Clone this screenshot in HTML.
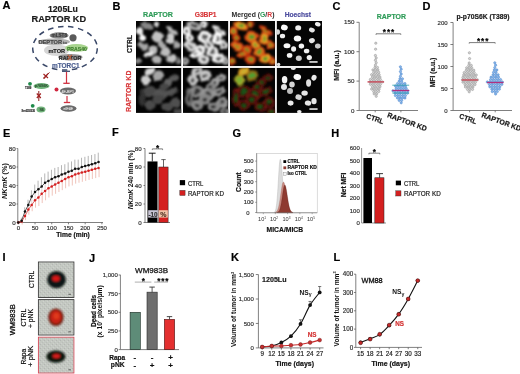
<!DOCTYPE html>
<html><head><meta charset="utf-8"><title>Figure</title>
<style>html,body{margin:0;padding:0;background:#fff;} svg{display:block;} text{font-family:'Liberation Sans', Arial, sans-serif;}</style>
</head><body>
<svg width="520" height="374" viewBox="0 0 520 374">
<rect width="520" height="374" fill="#fff"/>
<defs>
<filter id="soft" x="-20%" y="-20%" width="140%" height="140%"><feGaussianBlur stdDeviation="0.45"/></filter>
<filter id="cb" x="-10%" y="-10%" width="120%" height="120%"><feTurbulence type="fractalNoise" baseFrequency="0.16" numOctaves="2" seed="4" result="n"/><feDisplacementMap in="SourceGraphic" in2="n" scale="3.8" xChannelSelector="R" yChannelSelector="G" result="d"/><feGaussianBlur in="d" stdDeviation="0.95"/></filter>
<filter id="hb" x="-10%" y="-10%" width="120%" height="120%"><feGaussianBlur stdDeviation="0.45"/></filter>
<filter id="ib" x="-30%" y="-30%" width="160%" height="160%"><feGaussianBlur stdDeviation="0.8"/></filter>
<pattern id="speck" width="4" height="4" patternUnits="userSpaceOnUse"><rect width="4" height="4" fill="#c4c9c2"/><rect x="0" y="0" width="1" height="1" fill="#a8a8a8"/><rect x="2" y="2" width="1" height="1" fill="#b4b4b4"/><rect x="3" y="1" width="1" height="1" fill="#dadada"/><rect x="1" y="3" width="1" height="1" fill="#d8d8d8"/></pattern>
</defs>
<text x="2.5" y="9.3" font-size="11" font-weight="bold" fill="#000" text-anchor="start" stroke="#000" stroke-width="0.18" >A</text>
<text x="47.9" y="11.8" font-size="9" font-weight="bold" fill="#1a1a1a" text-anchor="start" stroke="#1a1a1a" stroke-width="0.18" textLength="30" lengthAdjust="spacingAndGlyphs" >1205Lu</text>
<text x="31.5" y="22.2" font-size="9.2" font-weight="bold" fill="#1a1a1a" text-anchor="start" stroke="#1a1a1a" stroke-width="0.18" textLength="54.7" lengthAdjust="spacingAndGlyphs" >RAPTOR KD</text>
<g filter="url(#soft)">
<ellipse cx="56.5" cy="50.2" rx="12.5" ry="5.8" fill="#d6d6d6" />
<ellipse cx="59.1" cy="35.5" rx="9.5" ry="3.2" fill="#858585" />
<ellipse cx="54" cy="41.8" rx="16" ry="3.2" fill="#b2b2b2" />
<circle cx="73" cy="37.8" r="3.6" fill="#5a5a5a" stroke="none" stroke-width="0.4"/>
<ellipse cx="76.6" cy="47.9" rx="11.6" ry="3.9" fill="#a8d48e" />
<ellipse cx="70.3" cy="57.2" rx="12.2" ry="3.3" fill="#959595" />
<ellipse cx="41.5" cy="86" rx="8" ry="3" fill="#6fb27a" />
<ellipse cx="68" cy="91" rx="8" ry="3.4" fill="#6a6a6a" />
<ellipse cx="68.5" cy="108.5" rx="8" ry="3.2" fill="#6a6a6a" />
<ellipse cx="41" cy="109.5" rx="4.5" ry="3" fill="#6fb27a" />
</g>
<ellipse cx="65" cy="48.3" rx="32.3" ry="21.8" fill="none" stroke="#3a4868" stroke-width="1.5" stroke-dasharray="5.5 4.6"/>
<text x="51.5" y="37.3" font-size="5" font-weight="bold" fill="#3a3a3a" text-anchor="start" stroke="#3a3a3a" stroke-width="0.18" textLength="15.5" lengthAdjust="spacingAndGlyphs" >mLST8</text>
<text x="38.5" y="44.0" font-size="5.8" font-weight="bold" fill="#444" text-anchor="start" stroke="#444" stroke-width="0.18" textLength="23.5" lengthAdjust="spacingAndGlyphs" >DEPTOR</text>
<text x="63" y="44.0" font-size="4.2" font-weight="bold" fill="#555" text-anchor="start" stroke="#555" stroke-width="0.18" >to</text>
<text x="48.4" y="52.6" font-size="6" font-weight="bold" fill="#1a1a1a" text-anchor="start" stroke="#1a1a1a" stroke-width="0.18" textLength="16.7" lengthAdjust="spacingAndGlyphs" >mTOR</text>
<text x="66.9" y="51.0" font-size="6" font-weight="bold" fill="#3f7f2f" text-anchor="start" stroke="#3f7f2f" stroke-width="0.18" textLength="20" lengthAdjust="spacingAndGlyphs" >PRAS40</text>
<text x="58.8" y="59.5" font-size="6" font-weight="bold" fill="#2a2a2a" text-anchor="start" stroke="#2a2a2a" stroke-width="0.18" textLength="22.5" lengthAdjust="spacingAndGlyphs" >RAPTOR</text>
<line x1="67.8" y1="54.8" x2="71.8" y2="59.8" stroke="#b85a3a" stroke-width="1.1" />
<line x1="71.8" y1="54.8" x2="67.8" y2="59.8" stroke="#b85a3a" stroke-width="1.1" />
<text x="52" y="68" font-size="6.4" font-weight="bold" fill="#4a5d8f" text-anchor="start" stroke="#4a5d8f" stroke-width="0.18" textLength="27.5" lengthAdjust="spacingAndGlyphs" >mTORC1</text>
<line x1="62" y1="71.3" x2="70" y2="71.3" stroke="#3d4d70" stroke-width="1.3" />
<line x1="66.5" y1="71.8" x2="66.5" y2="83.3" stroke="#d03040" stroke-width="1.2" />
<line x1="63.3" y1="83.3" x2="69.7" y2="83.3" stroke="#d03040" stroke-width="1.3" />
<line x1="67" y1="96" x2="67" y2="102.5" stroke="#d03040" stroke-width="1.2" />
<line x1="63.8" y1="102.5" x2="70.2" y2="102.5" stroke="#d03040" stroke-width="1.3" />
<circle cx="56.5" cy="89.5" r="2" fill="#d02840" stroke="none" stroke-width="0.4"/>
<line x1="49.5" y1="72.5" x2="43" y2="78.5" stroke="#8a1f1f" stroke-width="1.0" />
<line x1="43.5" y1="74" x2="48" y2="78" stroke="#a02020" stroke-width="1.2" />
<line x1="48" y1="73.6" x2="44" y2="78.5" stroke="#a02020" stroke-width="1.2" />
<line x1="38.8" y1="91" x2="38.8" y2="101" stroke="#8a1f1f" stroke-width="1.0" />
<line x1="36.8" y1="93.5" x2="40.8" y2="98" stroke="#a02020" stroke-width="1.2" />
<line x1="40.8" y1="93.5" x2="36.8" y2="98" stroke="#a02020" stroke-width="1.2" />
<circle cx="30" cy="83.8" r="1.9" fill="#1f8a4a" stroke="none" stroke-width="0.4"/>
<circle cx="32.7" cy="105.8" r="1.9" fill="#1f8a4a" stroke="none" stroke-width="0.4"/>
<text x="35" y="87.3" font-size="3.6" font-weight="normal" fill="#254a2a" text-anchor="start" stroke="#254a2a" stroke-width="0.18" >p70S6K</text>
<text x="25" y="89.3" font-size="2.8" font-weight="bold" fill="#333" text-anchor="start" stroke="#333" stroke-width="0.18" >T389</text>
<text x="61.5" y="92.6" font-size="3.6" font-weight="normal" fill="#ddd" text-anchor="start" stroke="#ddd" stroke-width="0.18" >4E-BP1</text>
<text x="63.5" y="110" font-size="3.6" font-weight="normal" fill="#ddd" text-anchor="start" stroke="#ddd" stroke-width="0.18" >eIF4E</text>
<text x="39.5" y="111" font-size="3.5" font-weight="normal" fill="#254a2a" text-anchor="start" stroke="#254a2a" stroke-width="0.18" >S6</text>
<text x="21.5" y="111.5" font-size="2.6" font-weight="bold" fill="#333" text-anchor="start" stroke="#333" stroke-width="0.18" >Ser235/236</text>
<text x="112.5" y="9.5" font-size="11" font-weight="bold" fill="#000" text-anchor="start" stroke="#000" stroke-width="0.18" >B</text>
<text x="143" y="17" font-size="7.1" font-weight="bold" fill="#2e9b58" text-anchor="start" stroke="#2e9b58" stroke-width="0.18" textLength="30" lengthAdjust="spacingAndGlyphs" >RAPTOR</text>
<text x="194.7" y="17.2" font-size="7.1" font-weight="bold" fill="#d8383a" text-anchor="start" stroke="#d8383a" stroke-width="0.18" textLength="21.9" lengthAdjust="spacingAndGlyphs" >G3BP1</text>
<text x="231.5" y="17.2" font-size="7.1" font-weight="bold" fill="#2a2a2a" textLength="43" lengthAdjust="spacingAndGlyphs">Merged (<tspan fill="#2e9b58">G</tspan>/<tspan fill="#d8383a">R</tspan>)</text>
<text x="284.7" y="17.2" font-size="7.1" font-weight="bold" fill="#4b4b9e" text-anchor="start" stroke="#4b4b9e" stroke-width="0.18" textLength="26.3" lengthAdjust="spacingAndGlyphs" >Hoechst</text>
<text transform="translate(131.6,44) rotate(-90)" font-size="7" font-weight="bold" fill="#1a1a1a" text-anchor="middle" stroke="#1a1a1a" stroke-width="0.18" textLength="18" lengthAdjust="spacingAndGlyphs" >CTRL</text>
<text transform="translate(131.4,91.3) rotate(-90)" font-size="7" font-weight="bold" fill="#d8383a" text-anchor="middle" stroke="#d8383a" stroke-width="0.18" textLength="41.6" lengthAdjust="spacingAndGlyphs" >RAPTOR KD</text>
<clipPath id="clip00"><rect x="136" y="21" width="45.4" height="45.2"/></clipPath>
<g clip-path="url(#clip00)">
<rect x="136" y="21" width="45.4" height="45.2" fill="#050505" stroke="none" stroke-width="0.5" />
<g transform="translate(136,21)" filter="url(#cb)">
<ellipse cx="3.5" cy="10.5" rx="3.5154000000000005" ry="4.519800000000001" fill="rgb(231,231,231)" />
<ellipse cx="4.55462" cy="9.59604" rx="1.5819300000000003" ry="2.0339100000000006" fill="rgb(235,235,235)" />
<ellipse cx="6.5" cy="16.5" rx="3.5154000000000005" ry="3.5154000000000005" fill="rgb(247,247,247)" />
<ellipse cx="7.55462" cy="15.79692" rx="1.5819300000000003" ry="1.5819300000000003" fill="rgb(252,252,252)" />
<ellipse cx="11" cy="5" rx="7.030800000000001" ry="3.0132000000000003" fill="rgb(132,132,132)" transform="rotate(20 11 5)" />
<ellipse cx="13.10924" cy="4.39736" rx="3.1638600000000006" ry="1.3559400000000001" fill="rgb(134,134,134)" transform="rotate(20 13.10924 4.39736)" />
<ellipse cx="21" cy="3" rx="3.0132000000000003" ry="2.511" fill="rgb(209,209,209)" />
<ellipse cx="21.90396" cy="2.4978" rx="1.3559400000000001" ry="1.12995" fill="rgb(212,212,212)" />
<ellipse cx="21.5" cy="16" rx="6.026400000000001" ry="5.5242" fill="rgb(192,192,192)" />
<ellipse cx="23.30792" cy="14.89516" rx="2.7118800000000003" ry="2.4858900000000004" fill="rgb(196,196,196)" />
<ellipse cx="36" cy="9.5" rx="7.030800000000001" ry="2.511" fill="rgb(181,181,181)" transform="rotate(35 36 9.5)" />
<ellipse cx="38.10924" cy="8.9978" rx="3.1638600000000006" ry="1.12995" fill="rgb(184,184,184)" transform="rotate(35 38.10924 8.9978)" />
<ellipse cx="34.5" cy="17.5" rx="4.017600000000001" ry="5.5242" fill="rgb(203,203,203)" />
<ellipse cx="35.70528" cy="16.39516" rx="1.8079200000000004" ry="2.4858900000000004" fill="rgb(207,207,207)" />
<ellipse cx="41" cy="24" rx="3.5154000000000005" ry="3.5154000000000005" fill="rgb(165,165,165)" />
<ellipse cx="42.05462" cy="23.29692" rx="1.5819300000000003" ry="1.5819300000000003" fill="rgb(168,168,168)" />
<ellipse cx="7" cy="25.5" rx="6.026400000000001" ry="4.017600000000001" fill="rgb(165,165,165)" transform="rotate(20 7 25.5)" />
<ellipse cx="8.80792" cy="24.69648" rx="2.7118800000000003" ry="1.8079200000000004" fill="rgb(168,168,168)" transform="rotate(20 8.80792 24.69648)" />
<ellipse cx="17.5" cy="29" rx="4.017600000000001" ry="4.519800000000001" fill="rgb(187,187,187)" />
<ellipse cx="18.705280000000002" cy="28.09604" rx="1.8079200000000004" ry="2.0339100000000006" fill="rgb(190,190,190)" />
<ellipse cx="26" cy="24" rx="4.017600000000001" ry="4.519800000000001" fill="rgb(170,170,170)" transform="rotate(-30 26 24)" />
<ellipse cx="27.205280000000002" cy="23.09604" rx="1.8079200000000004" ry="2.0339100000000006" fill="rgb(173,173,173)" transform="rotate(-30 27.205280000000002 23.09604)" />
<ellipse cx="12.5" cy="33.5" rx="5.022" ry="2.511" fill="rgb(225,225,225)" transform="rotate(-15 12.5 33.5)" />
<ellipse cx="14.0066" cy="32.9978" rx="2.2599" ry="1.12995" fill="rgb(229,229,229)" transform="rotate(-15 14.0066 32.9978)" />
<ellipse cx="29.5" cy="30.5" rx="5.022" ry="4.017600000000001" fill="rgb(187,187,187)" />
<ellipse cx="31.0066" cy="29.69648" rx="2.2599" ry="1.8079200000000004" fill="rgb(190,190,190)" />
<ellipse cx="20.5" cy="38.5" rx="5.022" ry="4.017600000000001" fill="rgb(176,176,176)" />
<ellipse cx="22.0066" cy="37.69648" rx="2.2599" ry="1.8079200000000004" fill="rgb(179,179,179)" />
<ellipse cx="35.5" cy="37.5" rx="5.022" ry="4.017600000000001" fill="rgb(192,192,192)" />
<ellipse cx="37.0066" cy="36.69648" rx="2.2599" ry="1.8079200000000004" fill="rgb(196,196,196)" />
<ellipse cx="2" cy="40" rx="3.0132000000000003" ry="3.0132000000000003" fill="rgb(132,132,132)" />
<ellipse cx="2.90396" cy="39.39736" rx="1.3559400000000001" ry="1.3559400000000001" fill="rgb(134,134,134)" />
<ellipse cx="43" cy="40" rx="2.511" ry="3.0132000000000003" fill="rgb(132,132,132)" />
<ellipse cx="43.7533" cy="39.39736" rx="1.12995" ry="1.3559400000000001" fill="rgb(134,134,134)" />
</g>
</g>
<clipPath id="clip10"><rect x="183" y="21" width="45.4" height="45.2"/></clipPath>
<g clip-path="url(#clip10)">
<rect x="183" y="21" width="45.4" height="45.2" fill="#050505" stroke="none" stroke-width="0.5" />
<g transform="translate(183,21)" filter="url(#cb)">
<ellipse cx="3.5" cy="10.5" rx="4.28" ry="5.36" fill="rgb(250,250,250)" />
<ellipse cx="3.5" cy="10.5" rx="1.701" ry="2.1870000000000003" fill="rgb(100,100,100)" />
<ellipse cx="6.5" cy="16.5" rx="4.28" ry="4.28" fill="rgb(250,250,250)" />
<ellipse cx="6.5" cy="16.5" rx="1.701" ry="1.701" fill="rgb(100,100,100)" />
<ellipse cx="11" cy="5" rx="8.06" ry="3.74" fill="rgb(177,177,177)" transform="rotate(20 11 5)" />
<ellipse cx="11" cy="5" rx="3.402" ry="1.4580000000000002" fill="rgb(71,71,71)" transform="rotate(20 11 5)" />
<ellipse cx="21" cy="3" rx="3.74" ry="3.2" fill="rgb(250,250,250)" />
<ellipse cx="21" cy="3" rx="1.4580000000000002" ry="1.215" fill="rgb(100,100,100)" />
<ellipse cx="21.5" cy="16" rx="6.98" ry="6.44" fill="rgb(242,242,242)" />
<ellipse cx="21.5" cy="16" rx="2.9160000000000004" ry="2.673" fill="rgb(97,97,97)" />
<ellipse cx="36" cy="9.5" rx="8.06" ry="3.2" fill="rgb(230,230,230)" transform="rotate(35 36 9.5)" />
<ellipse cx="36" cy="9.5" rx="3.402" ry="1.215" fill="rgb(92,92,92)" transform="rotate(35 36 9.5)" />
<ellipse cx="34.5" cy="17.5" rx="4.82" ry="6.44" fill="rgb(250,250,250)" />
<ellipse cx="34.5" cy="17.5" rx="1.9440000000000002" ry="2.673" fill="rgb(100,100,100)" />
<ellipse cx="41" cy="24" rx="4.28" ry="4.28" fill="rgb(213,213,213)" />
<ellipse cx="41" cy="24" rx="1.701" ry="1.701" fill="rgb(85,85,85)" />
<ellipse cx="7" cy="25.5" rx="6.98" ry="4.82" fill="rgb(213,213,213)" transform="rotate(20 7 25.5)" />
<ellipse cx="7" cy="25.5" rx="2.9160000000000004" ry="1.9440000000000002" fill="rgb(85,85,85)" transform="rotate(20 7 25.5)" />
<ellipse cx="17.5" cy="29" rx="4.82" ry="5.36" fill="rgb(236,236,236)" />
<ellipse cx="17.5" cy="29" rx="1.9440000000000002" ry="2.1870000000000003" fill="rgb(94,94,94)" />
<ellipse cx="26" cy="24" rx="4.82" ry="5.36" fill="rgb(218,218,218)" transform="rotate(-30 26 24)" />
<ellipse cx="26" cy="24" rx="1.9440000000000002" ry="2.1870000000000003" fill="rgb(87,87,87)" transform="rotate(-30 26 24)" />
<ellipse cx="12.5" cy="33.5" rx="5.9" ry="3.2" fill="rgb(250,250,250)" transform="rotate(-15 12.5 33.5)" />
<ellipse cx="12.5" cy="33.5" rx="2.43" ry="1.215" fill="rgb(100,100,100)" transform="rotate(-15 12.5 33.5)" />
<ellipse cx="29.5" cy="30.5" rx="5.9" ry="4.82" fill="rgb(236,236,236)" />
<ellipse cx="29.5" cy="30.5" rx="2.43" ry="1.9440000000000002" fill="rgb(94,94,94)" />
<ellipse cx="20.5" cy="38.5" rx="5.9" ry="4.82" fill="rgb(224,224,224)" />
<ellipse cx="20.5" cy="38.5" rx="2.43" ry="1.9440000000000002" fill="rgb(89,89,89)" />
<ellipse cx="35.5" cy="37.5" rx="5.9" ry="4.82" fill="rgb(242,242,242)" />
<ellipse cx="35.5" cy="37.5" rx="2.43" ry="1.9440000000000002" fill="rgb(97,97,97)" />
<ellipse cx="2" cy="40" rx="3.74" ry="3.74" fill="rgb(177,177,177)" />
<ellipse cx="2" cy="40" rx="1.4580000000000002" ry="1.4580000000000002" fill="rgb(71,71,71)" />
<ellipse cx="43" cy="40" rx="3.2" ry="3.74" fill="rgb(177,177,177)" />
<ellipse cx="43" cy="40" rx="1.215" ry="1.4580000000000002" fill="rgb(71,71,71)" />
</g>
</g>
<clipPath id="clip20"><rect x="229.8" y="21" width="45.4" height="45.2"/></clipPath>
<g clip-path="url(#clip20)">
<rect x="229.8" y="21" width="45.4" height="45.2" fill="#050505" stroke="none" stroke-width="0.5" />
<g transform="translate(229.8,21)" filter="url(#cb)">
<ellipse cx="3.5" cy="10.5" rx="4.28" ry="5.36" fill="#d44616" />
<ellipse cx="3.5" cy="10.5" rx="2.7216" ry="3.4992" fill="#d87a1e" />
<ellipse cx="3.5" cy="10.5" rx="1.4364000000000001" ry="1.8468000000000002" fill="#5a9a26" />
<ellipse cx="6.5" cy="16.5" rx="4.28" ry="4.28" fill="#c42e10" />
<ellipse cx="6.5" cy="16.5" rx="2.7216" ry="2.7216" fill="#cc5a14" />
<ellipse cx="6.5" cy="16.5" rx="1.4364000000000001" ry="1.4364000000000001" fill="#5a9a26" />
<ellipse cx="11" cy="5" rx="8.06" ry="3.74" fill="#dc5a16" transform="rotate(20 11 5)" />
<ellipse cx="11" cy="5" rx="5.4432" ry="2.3328" fill="#e2a82a" transform="rotate(20 11 5)" />
<ellipse cx="11" cy="5" rx="2.8728000000000002" ry="1.2312" fill="#5a9a26" transform="rotate(20 11 5)" />
<ellipse cx="21" cy="3" rx="3.74" ry="3.2" fill="#c83812" />
<ellipse cx="21" cy="3" rx="2.3328" ry="1.944" fill="#d46a18" />
<ellipse cx="21" cy="3" rx="1.2312" ry="1.026" fill="#5a9a26" />
<ellipse cx="21.5" cy="16" rx="6.98" ry="6.44" fill="#d44616" />
<ellipse cx="21.5" cy="16" rx="4.6656" ry="4.2768" fill="#d87a1e" />
<ellipse cx="21.5" cy="16" rx="2.4624" ry="2.2572" fill="#5a9a26" />
<ellipse cx="36" cy="9.5" rx="8.06" ry="3.2" fill="#c42e10" transform="rotate(35 36 9.5)" />
<ellipse cx="36" cy="9.5" rx="5.4432" ry="1.944" fill="#cc5a14" transform="rotate(35 36 9.5)" />
<ellipse cx="36" cy="9.5" rx="2.8728000000000002" ry="1.026" fill="#5a9a26" transform="rotate(35 36 9.5)" />
<ellipse cx="34.5" cy="17.5" rx="4.82" ry="6.44" fill="#dc5a16" />
<ellipse cx="34.5" cy="17.5" rx="3.1104000000000003" ry="4.2768" fill="#e2a82a" />
<ellipse cx="34.5" cy="17.5" rx="1.6416000000000002" ry="2.2572" fill="#5a9a26" />
<ellipse cx="41" cy="24" rx="4.28" ry="4.28" fill="#c83812" />
<ellipse cx="41" cy="24" rx="2.7216" ry="2.7216" fill="#d46a18" />
<ellipse cx="41" cy="24" rx="1.4364000000000001" ry="1.4364000000000001" fill="#5a9a26" />
<ellipse cx="7" cy="25.5" rx="6.98" ry="4.82" fill="#d44616" transform="rotate(20 7 25.5)" />
<ellipse cx="7" cy="25.5" rx="4.6656" ry="3.1104000000000003" fill="#d87a1e" transform="rotate(20 7 25.5)" />
<ellipse cx="7" cy="25.5" rx="2.4624" ry="1.6416000000000002" fill="#5a9a26" transform="rotate(20 7 25.5)" />
<ellipse cx="17.5" cy="29" rx="4.82" ry="5.36" fill="#c42e10" />
<ellipse cx="17.5" cy="29" rx="3.1104000000000003" ry="3.4992" fill="#cc5a14" />
<ellipse cx="17.5" cy="29" rx="1.6416000000000002" ry="1.8468000000000002" fill="#5a9a26" />
<ellipse cx="26" cy="24" rx="4.82" ry="5.36" fill="#dc5a16" transform="rotate(-30 26 24)" />
<ellipse cx="26" cy="24" rx="3.1104000000000003" ry="3.4992" fill="#e2a82a" transform="rotate(-30 26 24)" />
<ellipse cx="26" cy="24" rx="1.6416000000000002" ry="1.8468000000000002" fill="#5a9a26" transform="rotate(-30 26 24)" />
<ellipse cx="12.5" cy="33.5" rx="5.9" ry="3.2" fill="#c83812" transform="rotate(-15 12.5 33.5)" />
<ellipse cx="12.5" cy="33.5" rx="3.888" ry="1.944" fill="#d46a18" transform="rotate(-15 12.5 33.5)" />
<ellipse cx="12.5" cy="33.5" rx="2.052" ry="1.026" fill="#5a9a26" transform="rotate(-15 12.5 33.5)" />
<ellipse cx="29.5" cy="30.5" rx="5.9" ry="4.82" fill="#d44616" />
<ellipse cx="29.5" cy="30.5" rx="3.888" ry="3.1104000000000003" fill="#d87a1e" />
<ellipse cx="29.5" cy="30.5" rx="2.052" ry="1.6416000000000002" fill="#5a9a26" />
<ellipse cx="20.5" cy="38.5" rx="5.9" ry="4.82" fill="#c42e10" />
<ellipse cx="20.5" cy="38.5" rx="3.888" ry="3.1104000000000003" fill="#cc5a14" />
<ellipse cx="20.5" cy="38.5" rx="2.052" ry="1.6416000000000002" fill="#5a9a26" />
<ellipse cx="35.5" cy="37.5" rx="5.9" ry="4.82" fill="#dc5a16" />
<ellipse cx="35.5" cy="37.5" rx="3.888" ry="3.1104000000000003" fill="#e2a82a" />
<ellipse cx="35.5" cy="37.5" rx="2.052" ry="1.6416000000000002" fill="#5a9a26" />
<ellipse cx="2" cy="40" rx="3.74" ry="3.74" fill="#c83812" />
<ellipse cx="2" cy="40" rx="2.3328" ry="2.3328" fill="#d46a18" />
<ellipse cx="2" cy="40" rx="1.2312" ry="1.2312" fill="#5a9a26" />
<ellipse cx="43" cy="40" rx="3.2" ry="3.74" fill="#d44616" />
<ellipse cx="43" cy="40" rx="1.944" ry="2.3328" fill="#d87a1e" />
<ellipse cx="43" cy="40" rx="1.026" ry="1.2312" fill="#5a9a26" />
</g>
</g>
<clipPath id="clip30"><rect x="276.6" y="21" width="45.4" height="45.2"/></clipPath>
<g clip-path="url(#clip30)">
<rect x="276.6" y="21" width="45.4" height="45.2" fill="#050505" stroke="none" stroke-width="0.5" />
<g transform="translate(276.6,21)" filter="url(#hb)">
<ellipse cx="7.8" cy="6.5" rx="3.4499999999999997" ry="2.875" fill="rgb(250,250,250)" transform="rotate(10 7.8 6.5)" />
<ellipse cx="21.6" cy="6.9" rx="2.9899999999999998" ry="2.53" fill="rgb(240,240,240)" />
<ellipse cx="35.3" cy="9.1" rx="2.9899999999999998" ry="2.3" fill="rgb(230,230,230)" transform="rotate(20 35.3 9.1)" />
<ellipse cx="41.2" cy="3.2" rx="2.875" ry="2.07" fill="rgb(240,240,240)" transform="rotate(20 41.2 3.2)" />
<ellipse cx="1.3" cy="11" rx="2.07" ry="2.76" fill="rgb(215,215,215)" />
<ellipse cx="5.9" cy="15" rx="2.6449999999999996" ry="2.3" fill="rgb(240,240,240)" />
<ellipse cx="20.9" cy="17.6" rx="3.6799999999999997" ry="2.9899999999999998" fill="rgb(250,250,250)" />
<ellipse cx="35.3" cy="19.6" rx="2.9899999999999998" ry="2.53" fill="rgb(230,230,230)" transform="rotate(-20 35.3 19.6)" />
<ellipse cx="10.4" cy="24.8" rx="3.4499999999999997" ry="2.53" fill="rgb(250,250,250)" />
<ellipse cx="24.8" cy="25.1" rx="2.76" ry="2.53" fill="rgb(245,245,245)" />
<ellipse cx="17" cy="28.1" rx="2.53" ry="2.76" fill="rgb(240,240,240)" />
<ellipse cx="41.2" cy="25.1" rx="2.875" ry="2.53" fill="rgb(200,200,200)" />
<ellipse cx="30" cy="30" rx="2.76" ry="2.3" fill="rgb(240,240,240)" />
<ellipse cx="13" cy="34.4" rx="2.76" ry="2.3" fill="rgb(245,245,245)" />
<ellipse cx="22.2" cy="37.3" rx="2.9899999999999998" ry="2.76" fill="rgb(205,205,205)" />
<ellipse cx="32.7" cy="36.6" rx="2.6449999999999996" ry="2.53" fill="rgb(240,240,240)" />
<ellipse cx="2" cy="43.5" rx="1.7249999999999999" ry="1.7249999999999999" fill="rgb(225,225,225)" />
</g>
<rect x="309.40000000000003" y="61.2" width="8.2" height="1.5" fill="#f5f5f5" stroke="none" stroke-width="0.5" />
</g>
<clipPath id="clip01"><rect x="136" y="67.7" width="45.4" height="45.2"/></clipPath>
<g clip-path="url(#clip01)">
<rect x="136" y="67.7" width="45.4" height="45.2" fill="#050505" stroke="none" stroke-width="0.5" />
<g transform="translate(136,67.7)" filter="url(#cb)">
<ellipse cx="14" cy="3.5" rx="5.75" ry="3.4499999999999997" fill="rgb(215,215,215)" transform="rotate(-30 14 3.5)" />
<ellipse cx="22" cy="8" rx="5.75" ry="4.6" fill="rgb(165,165,165)" transform="rotate(-40 22 8)" />
<ellipse cx="9.5" cy="12" rx="4.6" ry="4.6" fill="rgb(205,205,205)" transform="rotate(30 9.5 12)" />
<ellipse cx="31.5" cy="14.5" rx="4.6" ry="3.4499999999999997" fill="rgb(100,100,100)" />
<ellipse cx="38" cy="10" rx="4.6" ry="3.4499999999999997" fill="rgb(90,90,90)" />
<ellipse cx="14" cy="24" rx="6.8999999999999995" ry="5.75" fill="rgb(72,72,72)" />
<ellipse cx="25" cy="26" rx="6.8999999999999995" ry="5.75" fill="rgb(82,82,82)" />
<ellipse cx="36" cy="24" rx="6.8999999999999995" ry="3.4499999999999997" fill="rgb(82,82,82)" transform="rotate(-20 36 24)" />
<ellipse cx="22" cy="32" rx="5.75" ry="4.6" fill="rgb(70,70,70)" />
<ellipse cx="39" cy="35" rx="5.75" ry="4.6" fill="rgb(80,80,80)" />
<ellipse cx="14" cy="38" rx="5.75" ry="4.6" fill="rgb(75,75,75)" />
<ellipse cx="31" cy="39" rx="5.75" ry="4.6" fill="rgb(75,75,75)" />
<ellipse cx="6" cy="30" rx="3.4499999999999997" ry="9.2" fill="rgb(50,50,50)" />
<ellipse cx="28" cy="19" rx="4.6" ry="3.4499999999999997" fill="rgb(70,70,70)" />
<ellipse cx="42" cy="44" rx="4.6" ry="3.4499999999999997" fill="rgb(70,70,70)" />
</g>
</g>
<clipPath id="clip11"><rect x="183" y="67.7" width="45.4" height="45.2"/></clipPath>
<g clip-path="url(#clip11)">
<rect x="183" y="67.7" width="45.4" height="45.2" fill="#050505" stroke="none" stroke-width="0.5" />
<g transform="translate(183,67.7)" filter="url(#cb)">
<ellipse cx="14" cy="3.5" rx="6.25" ry="3.9499999999999997" fill="rgb(200,200,200)" transform="rotate(-30 14 3.5)" />
<ellipse cx="14" cy="3.5" rx="2.5875" ry="1.5525" fill="rgb(80,80,80)" transform="rotate(-30 14 3.5)" />
<ellipse cx="22" cy="8" rx="6.25" ry="5.1" fill="rgb(200,200,200)" transform="rotate(-40 22 8)" />
<ellipse cx="22" cy="8" rx="2.5875" ry="2.07" fill="rgb(80,80,80)" transform="rotate(-40 22 8)" />
<ellipse cx="9.5" cy="12" rx="5.1" ry="5.1" fill="rgb(200,200,200)" transform="rotate(30 9.5 12)" />
<ellipse cx="9.5" cy="12" rx="2.07" ry="2.07" fill="rgb(80,80,80)" transform="rotate(30 9.5 12)" />
<ellipse cx="31.5" cy="14.5" rx="5.1" ry="3.9499999999999997" fill="rgb(170,170,170)" />
<ellipse cx="31.5" cy="14.5" rx="2.07" ry="1.5525" fill="rgb(68,68,68)" />
<ellipse cx="38" cy="10" rx="5.1" ry="3.9499999999999997" fill="rgb(158,158,158)" />
<ellipse cx="38" cy="10" rx="2.07" ry="1.5525" fill="rgb(63,63,63)" />
<ellipse cx="14" cy="24" rx="7.3999999999999995" ry="6.25" fill="rgb(136,136,136)" />
<ellipse cx="14" cy="24" rx="3.105" ry="2.5875" fill="rgb(54,54,54)" />
<ellipse cx="25" cy="26" rx="7.3999999999999995" ry="6.25" fill="rgb(148,148,148)" />
<ellipse cx="25" cy="26" rx="3.105" ry="2.5875" fill="rgb(59,59,59)" />
<ellipse cx="36" cy="24" rx="7.3999999999999995" ry="3.9499999999999997" fill="rgb(148,148,148)" transform="rotate(-20 36 24)" />
<ellipse cx="36" cy="24" rx="3.105" ry="1.5525" fill="rgb(59,59,59)" transform="rotate(-20 36 24)" />
<ellipse cx="22" cy="32" rx="6.25" ry="5.1" fill="rgb(134,134,134)" />
<ellipse cx="22" cy="32" rx="2.5875" ry="2.07" fill="rgb(53,53,53)" />
<ellipse cx="39" cy="35" rx="6.25" ry="5.1" fill="rgb(146,146,146)" />
<ellipse cx="39" cy="35" rx="2.5875" ry="2.07" fill="rgb(58,58,58)" />
<ellipse cx="14" cy="38" rx="6.25" ry="5.1" fill="rgb(140,140,140)" />
<ellipse cx="14" cy="38" rx="2.5875" ry="2.07" fill="rgb(56,56,56)" />
<ellipse cx="31" cy="39" rx="6.25" ry="5.1" fill="rgb(140,140,140)" />
<ellipse cx="31" cy="39" rx="2.5875" ry="2.07" fill="rgb(56,56,56)" />
<ellipse cx="6" cy="30" rx="3.9499999999999997" ry="9.7" fill="rgb(110,110,110)" />
<ellipse cx="6" cy="30" rx="1.5525" ry="4.14" fill="rgb(44,44,44)" />
<ellipse cx="28" cy="19" rx="5.1" ry="3.9499999999999997" fill="rgb(134,134,134)" />
<ellipse cx="28" cy="19" rx="2.07" ry="1.5525" fill="rgb(53,53,53)" />
<ellipse cx="42" cy="44" rx="5.1" ry="3.9499999999999997" fill="rgb(134,134,134)" />
<ellipse cx="42" cy="44" rx="2.07" ry="1.5525" fill="rgb(53,53,53)" />
</g>
</g>
<clipPath id="clip21"><rect x="229.8" y="67.7" width="45.4" height="45.2"/></clipPath>
<g clip-path="url(#clip21)">
<rect x="229.8" y="67.7" width="45.4" height="45.2" fill="#050505" stroke="none" stroke-width="0.5" />
<g transform="translate(229.8,67.7)" filter="url(#cb)">
<ellipse cx="14" cy="3.5" rx="6.25" ry="3.9499999999999997" fill="#d89a20" transform="rotate(-30 14 3.5)" />
<ellipse cx="14" cy="3.5" rx="3.4499999999999997" ry="2.07" fill="#c8b030" transform="rotate(-30 14 3.5)" />
<ellipse cx="22" cy="8" rx="6.25" ry="5.1" fill="#8a6a18" transform="rotate(-40 22 8)" />
<ellipse cx="22" cy="8" rx="3.4499999999999997" ry="2.76" fill="#50a030" transform="rotate(-40 22 8)" />
<ellipse cx="9.5" cy="12" rx="5.1" ry="5.1" fill="#a0a028" transform="rotate(30 9.5 12)" />
<ellipse cx="9.5" cy="12" rx="2.76" ry="2.76" fill="#80b030" transform="rotate(30 9.5 12)" />
<ellipse cx="31.5" cy="14.5" rx="5.1" ry="3.9499999999999997" fill="#6a160c" />
<ellipse cx="31.5" cy="14.5" rx="3.4499999999999997" ry="2.5875" fill="#2a0806" />
<ellipse cx="31.5" cy="14.5" rx="2.07" ry="1.5525" fill="#1e5218" />
<ellipse cx="38" cy="10" rx="5.1" ry="3.9499999999999997" fill="#6a160c" />
<ellipse cx="38" cy="10" rx="3.4499999999999997" ry="2.5875" fill="#2a0806" />
<ellipse cx="38" cy="10" rx="2.07" ry="1.5525" fill="#1e5218" />
<ellipse cx="14" cy="24" rx="7.3999999999999995" ry="6.25" fill="#6a160c" />
<ellipse cx="14" cy="24" rx="5.175" ry="4.3125" fill="#2a0806" />
<ellipse cx="14" cy="24" rx="3.105" ry="2.5875" fill="#1e5218" />
<ellipse cx="25" cy="26" rx="7.3999999999999995" ry="6.25" fill="#6a160c" />
<ellipse cx="25" cy="26" rx="5.175" ry="4.3125" fill="#2a0806" />
<ellipse cx="25" cy="26" rx="3.105" ry="2.5875" fill="#1e5218" />
<ellipse cx="36" cy="24" rx="7.3999999999999995" ry="3.9499999999999997" fill="#6a160c" transform="rotate(-20 36 24)" />
<ellipse cx="36" cy="24" rx="5.175" ry="2.5875" fill="#2a0806" transform="rotate(-20 36 24)" />
<ellipse cx="36" cy="24" rx="3.105" ry="1.5525" fill="#1e5218" transform="rotate(-20 36 24)" />
<ellipse cx="22" cy="32" rx="6.25" ry="5.1" fill="#6a160c" />
<ellipse cx="22" cy="32" rx="4.3125" ry="3.4499999999999997" fill="#2a0806" />
<ellipse cx="22" cy="32" rx="2.5875" ry="2.07" fill="#1e5218" />
<ellipse cx="39" cy="35" rx="6.25" ry="5.1" fill="#6a160c" />
<ellipse cx="39" cy="35" rx="4.3125" ry="3.4499999999999997" fill="#2a0806" />
<ellipse cx="39" cy="35" rx="2.5875" ry="2.07" fill="#1e5218" />
<ellipse cx="14" cy="38" rx="6.25" ry="5.1" fill="#6a160c" />
<ellipse cx="14" cy="38" rx="4.3125" ry="3.4499999999999997" fill="#2a0806" />
<ellipse cx="14" cy="38" rx="2.5875" ry="2.07" fill="#1e5218" />
<ellipse cx="31" cy="39" rx="6.25" ry="5.1" fill="#6a160c" />
<ellipse cx="31" cy="39" rx="4.3125" ry="3.4499999999999997" fill="#2a0806" />
<ellipse cx="31" cy="39" rx="2.5875" ry="2.07" fill="#1e5218" />
<ellipse cx="6" cy="30" rx="3.9499999999999997" ry="9.7" fill="#6a160c" />
<ellipse cx="6" cy="30" rx="2.5875" ry="6.8999999999999995" fill="#2a0806" />
<ellipse cx="6" cy="30" rx="1.5525" ry="4.14" fill="#1e5218" />
<ellipse cx="28" cy="19" rx="5.1" ry="3.9499999999999997" fill="#6a160c" />
<ellipse cx="28" cy="19" rx="3.4499999999999997" ry="2.5875" fill="#2a0806" />
<ellipse cx="28" cy="19" rx="2.07" ry="1.5525" fill="#1e5218" />
<ellipse cx="42" cy="44" rx="5.1" ry="3.9499999999999997" fill="#6a160c" />
<ellipse cx="42" cy="44" rx="3.4499999999999997" ry="2.5875" fill="#2a0806" />
<ellipse cx="42" cy="44" rx="2.07" ry="1.5525" fill="#1e5218" />
</g>
</g>
<clipPath id="clip31"><rect x="276.6" y="67.7" width="45.4" height="45.2"/></clipPath>
<g clip-path="url(#clip31)">
<rect x="276.6" y="67.7" width="45.4" height="45.2" fill="#050505" stroke="none" stroke-width="0.5" />
<g transform="translate(276.6,67.7)" filter="url(#hb)">
<ellipse cx="16.7" cy="0.6" rx="2.53" ry="1.7249999999999999" fill="rgb(235,235,235)" />
<ellipse cx="20.7" cy="9.3" rx="3.7949999999999995" ry="2.9899999999999998" fill="rgb(250,250,250)" transform="rotate(10 20.7 9.3)" />
<ellipse cx="8" cy="12" rx="2.76" ry="3.6799999999999997" fill="rgb(245,245,245)" />
<ellipse cx="37.4" cy="10" rx="2.53" ry="2.9899999999999998" fill="rgb(235,235,235)" transform="rotate(20 37.4 10)" />
<ellipse cx="15.4" cy="16.7" rx="2.76" ry="2.9899999999999998" fill="rgb(215,215,215)" />
<ellipse cx="32" cy="15.3" rx="2.53" ry="3.6799999999999997" fill="rgb(225,225,225)" />
<ellipse cx="7.4" cy="19.4" rx="2.9899999999999998" ry="2.9899999999999998" fill="rgb(230,230,230)" />
<ellipse cx="13.4" cy="23.4" rx="2.9899999999999998" ry="2.9899999999999998" fill="rgb(190,190,190)" />
<ellipse cx="28" cy="25.4" rx="3.2199999999999998" ry="2.6449999999999996" fill="rgb(230,230,230)" />
<ellipse cx="22" cy="29.4" rx="3.2199999999999998" ry="2.76" fill="rgb(215,215,215)" transform="rotate(10 22 29.4)" />
<ellipse cx="37.4" cy="33.4" rx="2.6449999999999996" ry="3.2199999999999998" fill="rgb(230,230,230)" />
<ellipse cx="14" cy="35.4" rx="2.9899999999999998" ry="2.53" fill="rgb(235,235,235)" />
<ellipse cx="31.4" cy="35.4" rx="3.2199999999999998" ry="2.53" fill="rgb(230,230,230)" transform="rotate(10 31.4 35.4)" />
<ellipse cx="22.7" cy="44" rx="2.3" ry="1.7249999999999999" fill="rgb(235,235,235)" />
</g>
<rect x="309.40000000000003" y="108.30000000000001" width="8.2" height="1.5" fill="#f5f5f5" stroke="none" stroke-width="0.5" />
</g>
<text x="332.4" y="9.6" font-size="11" font-weight="bold" fill="#000" text-anchor="start" stroke="#000" stroke-width="0.18" >C</text>
<text x="376.7" y="18.8" font-size="7.1" font-weight="bold" fill="#2e9b58" text-anchor="start" stroke="#2e9b58" stroke-width="0.18" textLength="29.3" lengthAdjust="spacingAndGlyphs" >RAPTOR</text>
<line x1="359.2" y1="22.3" x2="359.2" y2="110.5" stroke="#555" stroke-width="0.75" />
<line x1="356.5" y1="110.5" x2="359.2" y2="110.5" stroke="#555" stroke-width="0.75" />
<text x="354.4" y="112.5" font-size="6.2" font-weight="normal" fill="#333" text-anchor="end" stroke="#333" stroke-width="0.18" >0</text>
<line x1="356.5" y1="81.1" x2="359.2" y2="81.1" stroke="#555" stroke-width="0.75" />
<text x="354.4" y="83.1" font-size="6.2" font-weight="normal" fill="#333" text-anchor="end" stroke="#333" stroke-width="0.18" >50</text>
<line x1="356.5" y1="51.7" x2="359.2" y2="51.7" stroke="#555" stroke-width="0.75" />
<text x="354.4" y="53.7" font-size="6.2" font-weight="normal" fill="#333" text-anchor="end" stroke="#333" stroke-width="0.18" >100</text>
<line x1="356.5" y1="22.3" x2="359.2" y2="22.3" stroke="#555" stroke-width="0.75" />
<text x="354.4" y="24.3" font-size="6.2" font-weight="normal" fill="#333" text-anchor="end" stroke="#333" stroke-width="0.18" >150</text>
<line x1="359.2" y1="110.5" x2="418" y2="110.5" stroke="#555" stroke-width="0.75" />
<line x1="375.2" y1="110.5" x2="375.2" y2="112.3" stroke="#555" stroke-width="0.75" />
<line x1="400.9" y1="110.5" x2="400.9" y2="112.3" stroke="#555" stroke-width="0.75" />
<text transform="translate(338.8,65.5) rotate(-90)" font-size="6.3" font-weight="bold" fill="#1a1a1a" text-anchor="middle" stroke="#1a1a1a" stroke-width="0.18" textLength="30.5" lengthAdjust="spacingAndGlyphs" >MFI (a.u.)</text>
<line x1="376" y1="33.8" x2="400.8" y2="33.8" stroke="#444" stroke-width="0.7" />
<line x1="376" y1="33.8" x2="376" y2="34.9" stroke="#444" stroke-width="0.6" />
<line x1="400.8" y1="33.8" x2="400.8" y2="34.9" stroke="#444" stroke-width="0.6" />
<text x="382.64" y="34.92" font-size="8.2" font-weight="bold" fill="#000" text-anchor="start" stroke="#000" stroke-width="0.18" >*</text>
<text x="386.94" y="34.92" font-size="8.2" font-weight="bold" fill="#000" text-anchor="start" stroke="#000" stroke-width="0.18" >*</text>
<text x="390.94" y="34.92" font-size="8.2" font-weight="bold" fill="#000" text-anchor="start" stroke="#000" stroke-width="0.18" >*</text>
<circle cx="375.4" cy="55.5" r="1.15" fill="#d4d4d4" stroke="#858585" stroke-width="0.45"/>
<circle cx="376.2" cy="57.9" r="1.15" fill="#d4d4d4" stroke="#858585" stroke-width="0.45"/>
<circle cx="375.4" cy="60.3" r="1.15" fill="#d4d4d4" stroke="#858585" stroke-width="0.45"/>
<circle cx="376.2" cy="62.7" r="1.15" fill="#d4d4d4" stroke="#858585" stroke-width="0.45"/>
<circle cx="375.4" cy="65.1" r="1.15" fill="#d4d4d4" stroke="#858585" stroke-width="0.45"/>
<circle cx="374.95" cy="67.5" r="1.15" fill="#d4d4d4" stroke="#858585" stroke-width="0.45"/>
<circle cx="377.45" cy="67.5" r="1.15" fill="#d4d4d4" stroke="#858585" stroke-width="0.45"/>
<circle cx="372.9" cy="69.9" r="1.15" fill="#d4d4d4" stroke="#858585" stroke-width="0.45"/>
<circle cx="375.4" cy="69.9" r="1.15" fill="#d4d4d4" stroke="#858585" stroke-width="0.45"/>
<circle cx="377.9" cy="69.9" r="1.15" fill="#d4d4d4" stroke="#858585" stroke-width="0.45"/>
<circle cx="373.7" cy="72.3" r="1.15" fill="#d4d4d4" stroke="#858585" stroke-width="0.45"/>
<circle cx="376.2" cy="72.3" r="1.15" fill="#d4d4d4" stroke="#858585" stroke-width="0.45"/>
<circle cx="378.7" cy="72.3" r="1.15" fill="#d4d4d4" stroke="#858585" stroke-width="0.45"/>
<circle cx="371.65" cy="74.7" r="1.15" fill="#d4d4d4" stroke="#858585" stroke-width="0.45"/>
<circle cx="374.15" cy="74.7" r="1.15" fill="#d4d4d4" stroke="#858585" stroke-width="0.45"/>
<circle cx="376.65" cy="74.7" r="1.15" fill="#d4d4d4" stroke="#858585" stroke-width="0.45"/>
<circle cx="379.15" cy="74.7" r="1.15" fill="#d4d4d4" stroke="#858585" stroke-width="0.45"/>
<circle cx="372.45" cy="77.1" r="1.15" fill="#d4d4d4" stroke="#858585" stroke-width="0.45"/>
<circle cx="374.95" cy="77.1" r="1.15" fill="#d4d4d4" stroke="#858585" stroke-width="0.45"/>
<circle cx="377.45" cy="77.1" r="1.15" fill="#d4d4d4" stroke="#858585" stroke-width="0.45"/>
<circle cx="379.95" cy="77.1" r="1.15" fill="#d4d4d4" stroke="#858585" stroke-width="0.45"/>
<circle cx="370.4" cy="79.5" r="1.15" fill="#d4d4d4" stroke="#858585" stroke-width="0.45"/>
<circle cx="372.9" cy="79.5" r="1.15" fill="#d4d4d4" stroke="#858585" stroke-width="0.45"/>
<circle cx="375.4" cy="79.5" r="1.15" fill="#d4d4d4" stroke="#858585" stroke-width="0.45"/>
<circle cx="377.9" cy="79.5" r="1.15" fill="#d4d4d4" stroke="#858585" stroke-width="0.45"/>
<circle cx="380.4" cy="79.5" r="1.15" fill="#d4d4d4" stroke="#858585" stroke-width="0.45"/>
<circle cx="369.95" cy="81.9" r="1.15" fill="#d4d4d4" stroke="#858585" stroke-width="0.45"/>
<circle cx="372.45" cy="81.9" r="1.15" fill="#d4d4d4" stroke="#858585" stroke-width="0.45"/>
<circle cx="374.95" cy="81.9" r="1.15" fill="#d4d4d4" stroke="#858585" stroke-width="0.45"/>
<circle cx="377.45" cy="81.9" r="1.15" fill="#d4d4d4" stroke="#858585" stroke-width="0.45"/>
<circle cx="379.95" cy="81.9" r="1.15" fill="#d4d4d4" stroke="#858585" stroke-width="0.45"/>
<circle cx="382.45" cy="81.9" r="1.15" fill="#d4d4d4" stroke="#858585" stroke-width="0.45"/>
<circle cx="370.4" cy="84.3" r="1.15" fill="#d4d4d4" stroke="#858585" stroke-width="0.45"/>
<circle cx="372.9" cy="84.3" r="1.15" fill="#d4d4d4" stroke="#858585" stroke-width="0.45"/>
<circle cx="375.4" cy="84.3" r="1.15" fill="#d4d4d4" stroke="#858585" stroke-width="0.45"/>
<circle cx="377.9" cy="84.3" r="1.15" fill="#d4d4d4" stroke="#858585" stroke-width="0.45"/>
<circle cx="380.4" cy="84.3" r="1.15" fill="#d4d4d4" stroke="#858585" stroke-width="0.45"/>
<circle cx="372.45" cy="86.7" r="1.15" fill="#d4d4d4" stroke="#858585" stroke-width="0.45"/>
<circle cx="374.95" cy="86.7" r="1.15" fill="#d4d4d4" stroke="#858585" stroke-width="0.45"/>
<circle cx="377.45" cy="86.7" r="1.15" fill="#d4d4d4" stroke="#858585" stroke-width="0.45"/>
<circle cx="379.95" cy="86.7" r="1.15" fill="#d4d4d4" stroke="#858585" stroke-width="0.45"/>
<circle cx="371.65" cy="89.1" r="1.15" fill="#d4d4d4" stroke="#858585" stroke-width="0.45"/>
<circle cx="374.15" cy="89.1" r="1.15" fill="#d4d4d4" stroke="#858585" stroke-width="0.45"/>
<circle cx="376.65" cy="89.1" r="1.15" fill="#d4d4d4" stroke="#858585" stroke-width="0.45"/>
<circle cx="379.15" cy="89.1" r="1.15" fill="#d4d4d4" stroke="#858585" stroke-width="0.45"/>
<circle cx="373.7" cy="91.5" r="1.15" fill="#d4d4d4" stroke="#858585" stroke-width="0.45"/>
<circle cx="376.2" cy="91.5" r="1.15" fill="#d4d4d4" stroke="#858585" stroke-width="0.45"/>
<circle cx="378.7" cy="91.5" r="1.15" fill="#d4d4d4" stroke="#858585" stroke-width="0.45"/>
<circle cx="374.15" cy="93.9" r="1.15" fill="#d4d4d4" stroke="#858585" stroke-width="0.45"/>
<circle cx="376.65" cy="93.9" r="1.15" fill="#d4d4d4" stroke="#858585" stroke-width="0.45"/>
<circle cx="376.2" cy="96.3" r="1.15" fill="#d4d4d4" stroke="#858585" stroke-width="0.45"/>
<circle cx="375.8" cy="43.2" r="1.15" fill="#d4d4d4" stroke="#858585" stroke-width="0.45"/>
<circle cx="375.6" cy="49.2" r="1.15" fill="#d4d4d4" stroke="#858585" stroke-width="0.45"/>
<circle cx="400.4" cy="66.8" r="1.15" fill="#86b8ec" stroke="#3e78c4" stroke-width="0.45"/>
<circle cx="401.2" cy="69.2" r="1.15" fill="#86b8ec" stroke="#3e78c4" stroke-width="0.45"/>
<circle cx="400.4" cy="71.6" r="1.15" fill="#86b8ec" stroke="#3e78c4" stroke-width="0.45"/>
<circle cx="401.2" cy="74.0" r="1.15" fill="#86b8ec" stroke="#3e78c4" stroke-width="0.45"/>
<circle cx="400.4" cy="76.4" r="1.15" fill="#86b8ec" stroke="#3e78c4" stroke-width="0.45"/>
<circle cx="399.95" cy="78.8" r="1.15" fill="#86b8ec" stroke="#3e78c4" stroke-width="0.45"/>
<circle cx="402.45" cy="78.8" r="1.15" fill="#86b8ec" stroke="#3e78c4" stroke-width="0.45"/>
<circle cx="399.15" cy="81.2" r="1.15" fill="#86b8ec" stroke="#3e78c4" stroke-width="0.45"/>
<circle cx="401.65" cy="81.2" r="1.15" fill="#86b8ec" stroke="#3e78c4" stroke-width="0.45"/>
<circle cx="397.45" cy="83.6" r="1.15" fill="#86b8ec" stroke="#3e78c4" stroke-width="0.45"/>
<circle cx="399.95" cy="83.6" r="1.15" fill="#86b8ec" stroke="#3e78c4" stroke-width="0.45"/>
<circle cx="402.45" cy="83.6" r="1.15" fill="#86b8ec" stroke="#3e78c4" stroke-width="0.45"/>
<circle cx="404.95" cy="83.6" r="1.15" fill="#86b8ec" stroke="#3e78c4" stroke-width="0.45"/>
<circle cx="395.4" cy="86.0" r="1.15" fill="#86b8ec" stroke="#3e78c4" stroke-width="0.45"/>
<circle cx="397.9" cy="86.0" r="1.15" fill="#86b8ec" stroke="#3e78c4" stroke-width="0.45"/>
<circle cx="400.4" cy="86.0" r="1.15" fill="#86b8ec" stroke="#3e78c4" stroke-width="0.45"/>
<circle cx="402.9" cy="86.0" r="1.15" fill="#86b8ec" stroke="#3e78c4" stroke-width="0.45"/>
<circle cx="405.4" cy="86.0" r="1.15" fill="#86b8ec" stroke="#3e78c4" stroke-width="0.45"/>
<circle cx="396.2" cy="88.4" r="1.15" fill="#86b8ec" stroke="#3e78c4" stroke-width="0.45"/>
<circle cx="398.7" cy="88.4" r="1.15" fill="#86b8ec" stroke="#3e78c4" stroke-width="0.45"/>
<circle cx="401.2" cy="88.4" r="1.15" fill="#86b8ec" stroke="#3e78c4" stroke-width="0.45"/>
<circle cx="403.7" cy="88.4" r="1.15" fill="#86b8ec" stroke="#3e78c4" stroke-width="0.45"/>
<circle cx="406.2" cy="88.4" r="1.15" fill="#86b8ec" stroke="#3e78c4" stroke-width="0.45"/>
<circle cx="392.9" cy="90.8" r="1.15" fill="#86b8ec" stroke="#3e78c4" stroke-width="0.45"/>
<circle cx="395.4" cy="90.8" r="1.15" fill="#86b8ec" stroke="#3e78c4" stroke-width="0.45"/>
<circle cx="397.9" cy="90.8" r="1.15" fill="#86b8ec" stroke="#3e78c4" stroke-width="0.45"/>
<circle cx="400.4" cy="90.8" r="1.15" fill="#86b8ec" stroke="#3e78c4" stroke-width="0.45"/>
<circle cx="402.9" cy="90.8" r="1.15" fill="#86b8ec" stroke="#3e78c4" stroke-width="0.45"/>
<circle cx="405.4" cy="90.8" r="1.15" fill="#86b8ec" stroke="#3e78c4" stroke-width="0.45"/>
<circle cx="407.9" cy="90.8" r="1.15" fill="#86b8ec" stroke="#3e78c4" stroke-width="0.45"/>
<circle cx="394.95" cy="93.2" r="1.15" fill="#86b8ec" stroke="#3e78c4" stroke-width="0.45"/>
<circle cx="397.45" cy="93.2" r="1.15" fill="#86b8ec" stroke="#3e78c4" stroke-width="0.45"/>
<circle cx="399.95" cy="93.2" r="1.15" fill="#86b8ec" stroke="#3e78c4" stroke-width="0.45"/>
<circle cx="402.45" cy="93.2" r="1.15" fill="#86b8ec" stroke="#3e78c4" stroke-width="0.45"/>
<circle cx="404.95" cy="93.2" r="1.15" fill="#86b8ec" stroke="#3e78c4" stroke-width="0.45"/>
<circle cx="407.45" cy="93.2" r="1.15" fill="#86b8ec" stroke="#3e78c4" stroke-width="0.45"/>
<circle cx="395.4" cy="95.6" r="1.15" fill="#86b8ec" stroke="#3e78c4" stroke-width="0.45"/>
<circle cx="397.9" cy="95.6" r="1.15" fill="#86b8ec" stroke="#3e78c4" stroke-width="0.45"/>
<circle cx="400.4" cy="95.6" r="1.15" fill="#86b8ec" stroke="#3e78c4" stroke-width="0.45"/>
<circle cx="402.9" cy="95.6" r="1.15" fill="#86b8ec" stroke="#3e78c4" stroke-width="0.45"/>
<circle cx="405.4" cy="95.6" r="1.15" fill="#86b8ec" stroke="#3e78c4" stroke-width="0.45"/>
<circle cx="397.45" cy="98.0" r="1.15" fill="#86b8ec" stroke="#3e78c4" stroke-width="0.45"/>
<circle cx="399.95" cy="98.0" r="1.15" fill="#86b8ec" stroke="#3e78c4" stroke-width="0.45"/>
<circle cx="402.45" cy="98.0" r="1.15" fill="#86b8ec" stroke="#3e78c4" stroke-width="0.45"/>
<circle cx="404.95" cy="98.0" r="1.15" fill="#86b8ec" stroke="#3e78c4" stroke-width="0.45"/>
<circle cx="399.15" cy="100.4" r="1.15" fill="#86b8ec" stroke="#3e78c4" stroke-width="0.45"/>
<circle cx="401.65" cy="100.4" r="1.15" fill="#86b8ec" stroke="#3e78c4" stroke-width="0.45"/>
<circle cx="401.2" cy="102.8" r="1.15" fill="#86b8ec" stroke="#3e78c4" stroke-width="0.45"/>
<line x1="367.5" y1="81.9" x2="384.1" y2="81.9" stroke="#c84050" stroke-width="1.3" />
<line x1="392.3" y1="85.2" x2="409.2" y2="85.2" stroke="#2aa0a8" stroke-width="0.8" />
<line x1="392.3" y1="93" x2="409.2" y2="93" stroke="#2aa0a8" stroke-width="0.8" />
<line x1="392.3" y1="90.5" x2="409.2" y2="90.5" stroke="#b03080" stroke-width="1.3" />
<text transform="translate(365.8,118.0) rotate(20)" font-size="7.2" font-weight="bold" fill="#111" text-anchor="start" stroke="#111" stroke-width="0.18" textLength="18" lengthAdjust="spacingAndGlyphs" >CTRL</text>
<text transform="translate(386.8,117.0) rotate(20)" font-size="7.2" font-weight="bold" fill="#111" text-anchor="start" stroke="#111" stroke-width="0.18" textLength="41.5" lengthAdjust="spacingAndGlyphs" >RAPTOR KD</text>
<text x="422.6" y="9.5" font-size="11" font-weight="bold" fill="#000" text-anchor="start" stroke="#000" stroke-width="0.18" >D</text>
<text x="456.5" y="19.2" font-size="6.5" font-weight="bold" fill="#1a1a1a" text-anchor="start" stroke="#1a1a1a" stroke-width="0.18" textLength="52.9" lengthAdjust="spacingAndGlyphs" >p-p70S6K (T389)</text>
<line x1="453.1" y1="22.5" x2="453.1" y2="110.5" stroke="#555" stroke-width="0.75" />
<line x1="450.40000000000003" y1="110.5" x2="453.1" y2="110.5" stroke="#555" stroke-width="0.75" />
<text x="447.6" y="112.5" font-size="6" font-weight="normal" fill="#333" text-anchor="end" stroke="#333" stroke-width="0.18" >0</text>
<line x1="450.40000000000003" y1="88.5" x2="453.1" y2="88.5" stroke="#555" stroke-width="0.75" />
<text x="447.6" y="90.5" font-size="6" font-weight="normal" fill="#333" text-anchor="end" stroke="#333" stroke-width="0.18" >50</text>
<line x1="450.40000000000003" y1="66.5" x2="453.1" y2="66.5" stroke="#555" stroke-width="0.75" />
<text x="447.6" y="68.5" font-size="6" font-weight="normal" fill="#333" text-anchor="end" stroke="#333" stroke-width="0.18" >100</text>
<line x1="450.40000000000003" y1="44.5" x2="453.1" y2="44.5" stroke="#555" stroke-width="0.75" />
<text x="447.6" y="46.5" font-size="6" font-weight="normal" fill="#333" text-anchor="end" stroke="#333" stroke-width="0.18" >150</text>
<line x1="450.40000000000003" y1="22.5" x2="453.1" y2="22.5" stroke="#555" stroke-width="0.75" />
<text x="447.6" y="24.5" font-size="6" font-weight="normal" fill="#333" text-anchor="end" stroke="#333" stroke-width="0.18" >200</text>
<line x1="453.1" y1="110.5" x2="512" y2="110.5" stroke="#555" stroke-width="0.75" />
<line x1="469.6" y1="110.5" x2="469.6" y2="112.3" stroke="#555" stroke-width="0.75" />
<line x1="495.2" y1="110.5" x2="495.2" y2="112.3" stroke="#555" stroke-width="0.75" />
<text transform="translate(434.9,72.5) rotate(-90)" font-size="6.3" font-weight="bold" fill="#1a1a1a" text-anchor="middle" stroke="#1a1a1a" stroke-width="0.18" textLength="29.5" lengthAdjust="spacingAndGlyphs" >MFI (a.u.)</text>
<line x1="469.2" y1="42.6" x2="495.2" y2="42.6" stroke="#444" stroke-width="0.7" />
<line x1="469.2" y1="42.6" x2="469.2" y2="43.7" stroke="#444" stroke-width="0.6" />
<line x1="495.2" y1="42.6" x2="495.2" y2="43.7" stroke="#444" stroke-width="0.6" />
<text x="476.94" y="43.92" font-size="8.2" font-weight="bold" fill="#000" text-anchor="start" stroke="#000" stroke-width="0.18" >*</text>
<text x="481.04" y="43.92" font-size="8.2" font-weight="bold" fill="#000" text-anchor="start" stroke="#000" stroke-width="0.18" >*</text>
<text x="485.14" y="43.92" font-size="8.2" font-weight="bold" fill="#000" text-anchor="start" stroke="#000" stroke-width="0.18" >*</text>
<circle cx="469.2" cy="63" r="1.15" fill="#d4d4d4" stroke="#858585" stroke-width="0.45"/>
<circle cx="468.75" cy="65.4" r="1.15" fill="#d4d4d4" stroke="#858585" stroke-width="0.45"/>
<circle cx="471.25" cy="65.4" r="1.15" fill="#d4d4d4" stroke="#858585" stroke-width="0.45"/>
<circle cx="466.7" cy="67.8" r="1.15" fill="#d4d4d4" stroke="#858585" stroke-width="0.45"/>
<circle cx="469.2" cy="67.8" r="1.15" fill="#d4d4d4" stroke="#858585" stroke-width="0.45"/>
<circle cx="471.7" cy="67.8" r="1.15" fill="#d4d4d4" stroke="#858585" stroke-width="0.45"/>
<circle cx="466.25" cy="70.2" r="1.15" fill="#d4d4d4" stroke="#858585" stroke-width="0.45"/>
<circle cx="468.75" cy="70.2" r="1.15" fill="#d4d4d4" stroke="#858585" stroke-width="0.45"/>
<circle cx="471.25" cy="70.2" r="1.15" fill="#d4d4d4" stroke="#858585" stroke-width="0.45"/>
<circle cx="473.75" cy="70.2" r="1.15" fill="#d4d4d4" stroke="#858585" stroke-width="0.45"/>
<circle cx="464.2" cy="72.6" r="1.15" fill="#d4d4d4" stroke="#858585" stroke-width="0.45"/>
<circle cx="466.7" cy="72.6" r="1.15" fill="#d4d4d4" stroke="#858585" stroke-width="0.45"/>
<circle cx="469.2" cy="72.6" r="1.15" fill="#d4d4d4" stroke="#858585" stroke-width="0.45"/>
<circle cx="471.7" cy="72.6" r="1.15" fill="#d4d4d4" stroke="#858585" stroke-width="0.45"/>
<circle cx="474.2" cy="72.6" r="1.15" fill="#d4d4d4" stroke="#858585" stroke-width="0.45"/>
<circle cx="463.75" cy="75.0" r="1.15" fill="#d4d4d4" stroke="#858585" stroke-width="0.45"/>
<circle cx="466.25" cy="75.0" r="1.15" fill="#d4d4d4" stroke="#858585" stroke-width="0.45"/>
<circle cx="468.75" cy="75.0" r="1.15" fill="#d4d4d4" stroke="#858585" stroke-width="0.45"/>
<circle cx="471.25" cy="75.0" r="1.15" fill="#d4d4d4" stroke="#858585" stroke-width="0.45"/>
<circle cx="473.75" cy="75.0" r="1.15" fill="#d4d4d4" stroke="#858585" stroke-width="0.45"/>
<circle cx="476.25" cy="75.0" r="1.15" fill="#d4d4d4" stroke="#858585" stroke-width="0.45"/>
<circle cx="462.95" cy="77.4" r="1.15" fill="#d4d4d4" stroke="#858585" stroke-width="0.45"/>
<circle cx="465.45" cy="77.4" r="1.15" fill="#d4d4d4" stroke="#858585" stroke-width="0.45"/>
<circle cx="467.95" cy="77.4" r="1.15" fill="#d4d4d4" stroke="#858585" stroke-width="0.45"/>
<circle cx="470.45" cy="77.4" r="1.15" fill="#d4d4d4" stroke="#858585" stroke-width="0.45"/>
<circle cx="472.95" cy="77.4" r="1.15" fill="#d4d4d4" stroke="#858585" stroke-width="0.45"/>
<circle cx="475.45" cy="77.4" r="1.15" fill="#d4d4d4" stroke="#858585" stroke-width="0.45"/>
<circle cx="462.5" cy="79.8" r="1.15" fill="#d4d4d4" stroke="#858585" stroke-width="0.45"/>
<circle cx="465.0" cy="79.8" r="1.15" fill="#d4d4d4" stroke="#858585" stroke-width="0.45"/>
<circle cx="467.5" cy="79.8" r="1.15" fill="#d4d4d4" stroke="#858585" stroke-width="0.45"/>
<circle cx="470.0" cy="79.8" r="1.15" fill="#d4d4d4" stroke="#858585" stroke-width="0.45"/>
<circle cx="472.5" cy="79.8" r="1.15" fill="#d4d4d4" stroke="#858585" stroke-width="0.45"/>
<circle cx="475.0" cy="79.8" r="1.15" fill="#d4d4d4" stroke="#858585" stroke-width="0.45"/>
<circle cx="477.5" cy="79.8" r="1.15" fill="#d4d4d4" stroke="#858585" stroke-width="0.45"/>
<circle cx="462.95" cy="82.2" r="1.15" fill="#d4d4d4" stroke="#858585" stroke-width="0.45"/>
<circle cx="465.45" cy="82.2" r="1.15" fill="#d4d4d4" stroke="#858585" stroke-width="0.45"/>
<circle cx="467.95" cy="82.2" r="1.15" fill="#d4d4d4" stroke="#858585" stroke-width="0.45"/>
<circle cx="470.45" cy="82.2" r="1.15" fill="#d4d4d4" stroke="#858585" stroke-width="0.45"/>
<circle cx="472.95" cy="82.2" r="1.15" fill="#d4d4d4" stroke="#858585" stroke-width="0.45"/>
<circle cx="475.45" cy="82.2" r="1.15" fill="#d4d4d4" stroke="#858585" stroke-width="0.45"/>
<circle cx="465.0" cy="84.6" r="1.15" fill="#d4d4d4" stroke="#858585" stroke-width="0.45"/>
<circle cx="467.5" cy="84.6" r="1.15" fill="#d4d4d4" stroke="#858585" stroke-width="0.45"/>
<circle cx="470.0" cy="84.6" r="1.15" fill="#d4d4d4" stroke="#858585" stroke-width="0.45"/>
<circle cx="472.5" cy="84.6" r="1.15" fill="#d4d4d4" stroke="#858585" stroke-width="0.45"/>
<circle cx="475.0" cy="84.6" r="1.15" fill="#d4d4d4" stroke="#858585" stroke-width="0.45"/>
<circle cx="465.45" cy="87.0" r="1.15" fill="#d4d4d4" stroke="#858585" stroke-width="0.45"/>
<circle cx="467.95" cy="87.0" r="1.15" fill="#d4d4d4" stroke="#858585" stroke-width="0.45"/>
<circle cx="470.45" cy="87.0" r="1.15" fill="#d4d4d4" stroke="#858585" stroke-width="0.45"/>
<circle cx="472.95" cy="87.0" r="1.15" fill="#d4d4d4" stroke="#858585" stroke-width="0.45"/>
<circle cx="467.5" cy="89.4" r="1.15" fill="#d4d4d4" stroke="#858585" stroke-width="0.45"/>
<circle cx="470.0" cy="89.4" r="1.15" fill="#d4d4d4" stroke="#858585" stroke-width="0.45"/>
<circle cx="472.5" cy="89.4" r="1.15" fill="#d4d4d4" stroke="#858585" stroke-width="0.45"/>
<circle cx="469.2" cy="91.8" r="1.15" fill="#d4d4d4" stroke="#858585" stroke-width="0.45"/>
<circle cx="469.4" cy="52.8" r="1.15" fill="#d4d4d4" stroke="#858585" stroke-width="0.45"/>
<circle cx="469.6" cy="58.6" r="1.15" fill="#d4d4d4" stroke="#858585" stroke-width="0.45"/>
<circle cx="494.8" cy="62.8" r="1.15" fill="#86b8ec" stroke="#3e78c4" stroke-width="0.45"/>
<circle cx="495.6" cy="65.2" r="1.15" fill="#86b8ec" stroke="#3e78c4" stroke-width="0.45"/>
<circle cx="494.8" cy="67.6" r="1.15" fill="#86b8ec" stroke="#3e78c4" stroke-width="0.45"/>
<circle cx="494.35" cy="70.0" r="1.15" fill="#86b8ec" stroke="#3e78c4" stroke-width="0.45"/>
<circle cx="496.85" cy="70.0" r="1.15" fill="#86b8ec" stroke="#3e78c4" stroke-width="0.45"/>
<circle cx="493.55" cy="72.4" r="1.15" fill="#86b8ec" stroke="#3e78c4" stroke-width="0.45"/>
<circle cx="496.05" cy="72.4" r="1.15" fill="#86b8ec" stroke="#3e78c4" stroke-width="0.45"/>
<circle cx="493.1" cy="74.8" r="1.15" fill="#86b8ec" stroke="#3e78c4" stroke-width="0.45"/>
<circle cx="495.6" cy="74.8" r="1.15" fill="#86b8ec" stroke="#3e78c4" stroke-width="0.45"/>
<circle cx="498.1" cy="74.8" r="1.15" fill="#86b8ec" stroke="#3e78c4" stroke-width="0.45"/>
<circle cx="491.05" cy="77.2" r="1.15" fill="#86b8ec" stroke="#3e78c4" stroke-width="0.45"/>
<circle cx="493.55" cy="77.2" r="1.15" fill="#86b8ec" stroke="#3e78c4" stroke-width="0.45"/>
<circle cx="496.05" cy="77.2" r="1.15" fill="#86b8ec" stroke="#3e78c4" stroke-width="0.45"/>
<circle cx="498.55" cy="77.2" r="1.15" fill="#86b8ec" stroke="#3e78c4" stroke-width="0.45"/>
<circle cx="490.6" cy="79.6" r="1.15" fill="#86b8ec" stroke="#3e78c4" stroke-width="0.45"/>
<circle cx="493.1" cy="79.6" r="1.15" fill="#86b8ec" stroke="#3e78c4" stroke-width="0.45"/>
<circle cx="495.6" cy="79.6" r="1.15" fill="#86b8ec" stroke="#3e78c4" stroke-width="0.45"/>
<circle cx="498.1" cy="79.6" r="1.15" fill="#86b8ec" stroke="#3e78c4" stroke-width="0.45"/>
<circle cx="500.6" cy="79.6" r="1.15" fill="#86b8ec" stroke="#3e78c4" stroke-width="0.45"/>
<circle cx="487.3" cy="82.0" r="1.15" fill="#86b8ec" stroke="#3e78c4" stroke-width="0.45"/>
<circle cx="489.8" cy="82.0" r="1.15" fill="#86b8ec" stroke="#3e78c4" stroke-width="0.45"/>
<circle cx="492.3" cy="82.0" r="1.15" fill="#86b8ec" stroke="#3e78c4" stroke-width="0.45"/>
<circle cx="494.8" cy="82.0" r="1.15" fill="#86b8ec" stroke="#3e78c4" stroke-width="0.45"/>
<circle cx="497.3" cy="82.0" r="1.15" fill="#86b8ec" stroke="#3e78c4" stroke-width="0.45"/>
<circle cx="499.8" cy="82.0" r="1.15" fill="#86b8ec" stroke="#3e78c4" stroke-width="0.45"/>
<circle cx="502.3" cy="82.0" r="1.15" fill="#86b8ec" stroke="#3e78c4" stroke-width="0.45"/>
<circle cx="489.35" cy="84.4" r="1.15" fill="#86b8ec" stroke="#3e78c4" stroke-width="0.45"/>
<circle cx="491.85" cy="84.4" r="1.15" fill="#86b8ec" stroke="#3e78c4" stroke-width="0.45"/>
<circle cx="494.35" cy="84.4" r="1.15" fill="#86b8ec" stroke="#3e78c4" stroke-width="0.45"/>
<circle cx="496.85" cy="84.4" r="1.15" fill="#86b8ec" stroke="#3e78c4" stroke-width="0.45"/>
<circle cx="499.35" cy="84.4" r="1.15" fill="#86b8ec" stroke="#3e78c4" stroke-width="0.45"/>
<circle cx="501.85" cy="84.4" r="1.15" fill="#86b8ec" stroke="#3e78c4" stroke-width="0.45"/>
<circle cx="489.8" cy="86.8" r="1.15" fill="#86b8ec" stroke="#3e78c4" stroke-width="0.45"/>
<circle cx="492.3" cy="86.8" r="1.15" fill="#86b8ec" stroke="#3e78c4" stroke-width="0.45"/>
<circle cx="494.8" cy="86.8" r="1.15" fill="#86b8ec" stroke="#3e78c4" stroke-width="0.45"/>
<circle cx="497.3" cy="86.8" r="1.15" fill="#86b8ec" stroke="#3e78c4" stroke-width="0.45"/>
<circle cx="499.8" cy="86.8" r="1.15" fill="#86b8ec" stroke="#3e78c4" stroke-width="0.45"/>
<circle cx="491.85" cy="89.2" r="1.15" fill="#86b8ec" stroke="#3e78c4" stroke-width="0.45"/>
<circle cx="494.35" cy="89.2" r="1.15" fill="#86b8ec" stroke="#3e78c4" stroke-width="0.45"/>
<circle cx="496.85" cy="89.2" r="1.15" fill="#86b8ec" stroke="#3e78c4" stroke-width="0.45"/>
<circle cx="499.35" cy="89.2" r="1.15" fill="#86b8ec" stroke="#3e78c4" stroke-width="0.45"/>
<circle cx="492.3" cy="91.6" r="1.15" fill="#86b8ec" stroke="#3e78c4" stroke-width="0.45"/>
<circle cx="494.8" cy="91.6" r="1.15" fill="#86b8ec" stroke="#3e78c4" stroke-width="0.45"/>
<circle cx="497.3" cy="91.6" r="1.15" fill="#86b8ec" stroke="#3e78c4" stroke-width="0.45"/>
<circle cx="495.6" cy="94.0" r="1.15" fill="#86b8ec" stroke="#3e78c4" stroke-width="0.45"/>
<line x1="461.7" y1="80" x2="478" y2="80" stroke="#c84050" stroke-width="1.3" />
<line x1="487" y1="82.5" x2="503.5" y2="82.5" stroke="#b03080" stroke-width="1.3" />
<text transform="translate(458.8,118.0) rotate(20)" font-size="7.2" font-weight="bold" fill="#111" text-anchor="start" stroke="#111" stroke-width="0.18" textLength="18" lengthAdjust="spacingAndGlyphs" >CTRL</text>
<text transform="translate(481.0,117.0) rotate(20)" font-size="7.2" font-weight="bold" fill="#111" text-anchor="start" stroke="#111" stroke-width="0.18" textLength="41.5" lengthAdjust="spacingAndGlyphs" >RAPTOR KD</text>
<text x="2.9" y="136.6" font-size="11" font-weight="bold" fill="#000" text-anchor="start" stroke="#000" stroke-width="0.18" >E</text>
<line x1="17.8" y1="148.5" x2="17.8" y2="222.5" stroke="#555" stroke-width="0.75" />
<line x1="16.6" y1="222.5" x2="17.8" y2="222.5" stroke="#555" stroke-width="0.75" />
<text x="15.6" y="224.5" font-size="6.2" font-weight="normal" fill="#333" text-anchor="end" stroke="#333" stroke-width="0.18" >0</text>
<line x1="16.6" y1="204.0" x2="17.8" y2="204.0" stroke="#555" stroke-width="0.75" />
<text x="15.6" y="206.0" font-size="6.2" font-weight="normal" fill="#333" text-anchor="end" stroke="#333" stroke-width="0.18" >20</text>
<line x1="16.6" y1="185.5" x2="17.8" y2="185.5" stroke="#555" stroke-width="0.75" />
<text x="15.6" y="187.5" font-size="6.2" font-weight="normal" fill="#333" text-anchor="end" stroke="#333" stroke-width="0.18" >40</text>
<line x1="16.6" y1="167.0" x2="17.8" y2="167.0" stroke="#555" stroke-width="0.75" />
<text x="15.6" y="169.0" font-size="6.2" font-weight="normal" fill="#333" text-anchor="end" stroke="#333" stroke-width="0.18" >60</text>
<line x1="16.6" y1="148.5" x2="17.8" y2="148.5" stroke="#555" stroke-width="0.75" />
<text x="15.6" y="150.5" font-size="6.2" font-weight="normal" fill="#333" text-anchor="end" stroke="#333" stroke-width="0.18" >80</text>
<line x1="17.8" y1="222.5" x2="103" y2="222.5" stroke="#555" stroke-width="0.75" />
<line x1="18.3" y1="222.5" x2="18.3" y2="224.3" stroke="#555" stroke-width="0.75" />
<text x="18.3" y="230.3" font-size="6" font-weight="normal" fill="#333" text-anchor="middle" stroke="#333" stroke-width="0.18" >0</text>
<line x1="35.019999999999996" y1="222.5" x2="35.019999999999996" y2="224.3" stroke="#555" stroke-width="0.75" />
<text x="35.019999999999996" y="230.3" font-size="6" font-weight="normal" fill="#333" text-anchor="middle" stroke="#333" stroke-width="0.18" >50</text>
<line x1="51.739999999999995" y1="222.5" x2="51.739999999999995" y2="224.3" stroke="#555" stroke-width="0.75" />
<text x="51.739999999999995" y="230.3" font-size="6" font-weight="normal" fill="#333" text-anchor="middle" stroke="#333" stroke-width="0.18" >100</text>
<line x1="68.46" y1="222.5" x2="68.46" y2="224.3" stroke="#555" stroke-width="0.75" />
<text x="68.46" y="230.3" font-size="6" font-weight="normal" fill="#333" text-anchor="middle" stroke="#333" stroke-width="0.18" >150</text>
<line x1="85.17999999999999" y1="222.5" x2="85.17999999999999" y2="224.3" stroke="#555" stroke-width="0.75" />
<text x="85.17999999999999" y="230.3" font-size="6" font-weight="normal" fill="#333" text-anchor="middle" stroke="#333" stroke-width="0.18" >200</text>
<line x1="101.89999999999999" y1="222.5" x2="101.89999999999999" y2="224.3" stroke="#555" stroke-width="0.75" />
<text x="101.89999999999999" y="230.3" font-size="6" font-weight="normal" fill="#333" text-anchor="middle" stroke="#333" stroke-width="0.18" >250</text>
<text x="73" y="236.6" font-size="6.7" font-weight="bold" fill="#111" text-anchor="middle" stroke="#111" stroke-width="0.18" textLength="33.7" lengthAdjust="spacingAndGlyphs" >Time (min)</text>
<text transform="translate(6.8,181) rotate(-90)" font-size="7" font-weight="bold" fill="#111" text-anchor="middle" textLength="36" lengthAdjust="spacingAndGlyphs"><tspan font-style="italic">NKmK</tspan> (%)</text>
<line x1="22.144000000000002" y1="224.535" x2="22.144000000000002" y2="221.575" stroke="#e49282" stroke-width="0.55" />
<line x1="21.344" y1="220.65" x2="21.344" y2="217.69" stroke="#777" stroke-width="0.55" />
<line x1="21.744000000000003" y1="221.575" x2="21.744000000000003" y2="220.65" stroke="#c0a0a0" stroke-width="0.45" />
<line x1="25.488" y1="220.095" x2="25.488" y2="216.025" stroke="#e49282" stroke-width="0.55" />
<line x1="24.688" y1="211.4" x2="24.688" y2="207.33" stroke="#777" stroke-width="0.55" />
<line x1="25.088" y1="216.025" x2="25.088" y2="211.4" stroke="#c0a0a0" stroke-width="0.45" />
<line x1="28.832" y1="214.73" x2="28.832" y2="209.55" stroke="#e49282" stroke-width="0.55" />
<line x1="28.032" y1="204.925" x2="28.032" y2="199.745" stroke="#777" stroke-width="0.55" />
<line x1="28.432000000000002" y1="209.55" x2="28.432000000000002" y2="204.925" stroke="#c0a0a0" stroke-width="0.45" />
<line x1="32.176" y1="211.215" x2="32.176" y2="204.925" stroke="#e49282" stroke-width="0.55" />
<line x1="31.376" y1="196.6" x2="31.376" y2="190.31" stroke="#777" stroke-width="0.55" />
<line x1="31.776000000000003" y1="204.925" x2="31.776000000000003" y2="196.6" stroke="#c0a0a0" stroke-width="0.45" />
<line x1="35.519999999999996" y1="207.7" x2="35.519999999999996" y2="200.3" stroke="#e49282" stroke-width="0.55" />
<line x1="34.72" y1="191.975" x2="34.72" y2="184.575" stroke="#777" stroke-width="0.55" />
<line x1="35.12" y1="200.3" x2="35.12" y2="191.975" stroke="#c0a0a0" stroke-width="0.45" />
<line x1="38.864000000000004" y1="206.035" x2="38.864000000000004" y2="197.525" stroke="#e49282" stroke-width="0.55" />
<line x1="38.06400000000001" y1="189.2" x2="38.06400000000001" y2="180.69" stroke="#777" stroke-width="0.55" />
<line x1="38.464000000000006" y1="197.525" x2="38.464000000000006" y2="189.2" stroke="#c0a0a0" stroke-width="0.45" />
<line x1="42.208" y1="203.075" x2="42.208" y2="193.825" stroke="#e49282" stroke-width="0.55" />
<line x1="41.408" y1="186.425" x2="41.408" y2="177.175" stroke="#777" stroke-width="0.55" />
<line x1="41.808" y1="193.825" x2="41.808" y2="186.425" stroke="#c0a0a0" stroke-width="0.45" />
<line x1="45.552" y1="200.3" x2="45.552" y2="191.05" stroke="#e49282" stroke-width="0.55" />
<line x1="44.752" y1="182.725" x2="44.752" y2="173.475" stroke="#777" stroke-width="0.55" />
<line x1="45.152" y1="191.05" x2="45.152" y2="182.725" stroke="#c0a0a0" stroke-width="0.45" />
<line x1="48.896" y1="197.525" x2="48.896" y2="188.275" stroke="#e49282" stroke-width="0.55" />
<line x1="48.096000000000004" y1="180.875" x2="48.096000000000004" y2="171.625" stroke="#777" stroke-width="0.55" />
<line x1="48.496" y1="188.275" x2="48.496" y2="180.875" stroke="#c0a0a0" stroke-width="0.45" />
<line x1="52.239999999999995" y1="195.675" x2="52.239999999999995" y2="186.425" stroke="#e49282" stroke-width="0.55" />
<line x1="51.44" y1="179.025" x2="51.44" y2="169.775" stroke="#777" stroke-width="0.55" />
<line x1="51.839999999999996" y1="186.425" x2="51.839999999999996" y2="179.025" stroke="#c0a0a0" stroke-width="0.45" />
<line x1="55.584" y1="193.825" x2="55.584" y2="184.575" stroke="#e49282" stroke-width="0.55" />
<line x1="54.784000000000006" y1="177.175" x2="54.784000000000006" y2="167.925" stroke="#777" stroke-width="0.55" />
<line x1="55.184000000000005" y1="184.575" x2="55.184000000000005" y2="177.175" stroke="#c0a0a0" stroke-width="0.45" />
<line x1="58.928" y1="191.975" x2="58.928" y2="182.725" stroke="#e49282" stroke-width="0.55" />
<line x1="58.128" y1="176.25" x2="58.128" y2="167.0" stroke="#777" stroke-width="0.55" />
<line x1="58.528" y1="182.725" x2="58.528" y2="176.25" stroke="#c0a0a0" stroke-width="0.45" />
<line x1="62.27199999999999" y1="190.125" x2="62.27199999999999" y2="180.875" stroke="#e49282" stroke-width="0.55" />
<line x1="61.471999999999994" y1="174.4" x2="61.471999999999994" y2="165.15" stroke="#777" stroke-width="0.55" />
<line x1="61.87199999999999" y1="180.875" x2="61.87199999999999" y2="174.4" stroke="#c0a0a0" stroke-width="0.45" />
<line x1="65.616" y1="188.275" x2="65.616" y2="179.025" stroke="#e49282" stroke-width="0.55" />
<line x1="64.816" y1="173.475" x2="64.816" y2="164.225" stroke="#777" stroke-width="0.55" />
<line x1="65.216" y1="179.025" x2="65.216" y2="173.475" stroke="#c0a0a0" stroke-width="0.45" />
<line x1="68.96" y1="186.425" x2="68.96" y2="177.175" stroke="#e49282" stroke-width="0.55" />
<line x1="68.16" y1="171.625" x2="68.16" y2="162.375" stroke="#777" stroke-width="0.55" />
<line x1="68.55999999999999" y1="177.175" x2="68.55999999999999" y2="171.625" stroke="#c0a0a0" stroke-width="0.45" />
<line x1="72.304" y1="185.5" x2="72.304" y2="176.25" stroke="#e49282" stroke-width="0.55" />
<line x1="71.504" y1="170.7" x2="71.504" y2="161.45" stroke="#777" stroke-width="0.55" />
<line x1="71.904" y1="176.25" x2="71.904" y2="170.7" stroke="#c0a0a0" stroke-width="0.45" />
<line x1="75.648" y1="183.65" x2="75.648" y2="174.4" stroke="#e49282" stroke-width="0.55" />
<line x1="74.848" y1="168.85" x2="74.848" y2="159.6" stroke="#777" stroke-width="0.55" />
<line x1="75.24799999999999" y1="174.4" x2="75.24799999999999" y2="168.85" stroke="#c0a0a0" stroke-width="0.45" />
<line x1="78.99199999999999" y1="182.725" x2="78.99199999999999" y2="173.475" stroke="#e49282" stroke-width="0.55" />
<line x1="78.192" y1="168.85" x2="78.192" y2="159.6" stroke="#777" stroke-width="0.55" />
<line x1="78.59199999999998" y1="173.475" x2="78.59199999999998" y2="168.85" stroke="#c0a0a0" stroke-width="0.45" />
<line x1="82.336" y1="181.8" x2="82.336" y2="172.55" stroke="#e49282" stroke-width="0.55" />
<line x1="81.536" y1="167.0" x2="81.536" y2="157.75" stroke="#777" stroke-width="0.55" />
<line x1="81.93599999999999" y1="172.55" x2="81.93599999999999" y2="167.0" stroke="#c0a0a0" stroke-width="0.45" />
<line x1="85.67999999999999" y1="180.875" x2="85.67999999999999" y2="171.625" stroke="#e49282" stroke-width="0.55" />
<line x1="84.88" y1="166.075" x2="84.88" y2="156.825" stroke="#777" stroke-width="0.55" />
<line x1="85.27999999999999" y1="171.625" x2="85.27999999999999" y2="166.075" stroke="#c0a0a0" stroke-width="0.45" />
<line x1="89.02399999999999" y1="179.95" x2="89.02399999999999" y2="170.7" stroke="#e49282" stroke-width="0.55" />
<line x1="88.22399999999999" y1="165.15" x2="88.22399999999999" y2="155.89999999999998" stroke="#777" stroke-width="0.55" />
<line x1="88.62399999999998" y1="170.7" x2="88.62399999999998" y2="165.15" stroke="#c0a0a0" stroke-width="0.45" />
<line x1="92.368" y1="179.025" x2="92.368" y2="169.775" stroke="#e49282" stroke-width="0.55" />
<line x1="91.568" y1="164.225" x2="91.568" y2="154.975" stroke="#777" stroke-width="0.55" />
<line x1="91.96799999999999" y1="169.775" x2="91.96799999999999" y2="164.225" stroke="#c0a0a0" stroke-width="0.45" />
<line x1="95.71199999999999" y1="178.1" x2="95.71199999999999" y2="168.85" stroke="#e49282" stroke-width="0.55" />
<line x1="94.91199999999999" y1="163.3" x2="94.91199999999999" y2="154.05" stroke="#777" stroke-width="0.55" />
<line x1="95.31199999999998" y1="168.85" x2="95.31199999999998" y2="163.3" stroke="#c0a0a0" stroke-width="0.45" />
<line x1="99.056" y1="177.175" x2="99.056" y2="167.925" stroke="#e49282" stroke-width="0.55" />
<line x1="98.256" y1="161.9125" x2="98.256" y2="152.6625" stroke="#777" stroke-width="0.55" />
<line x1="98.65599999999999" y1="167.925" x2="98.65599999999999" y2="161.9125" stroke="#c0a0a0" stroke-width="0.45" />
<polyline points="18.30,222.50 21.64,220.65 24.99,211.40 28.33,204.93 31.68,196.60 35.02,191.97 38.36,189.20 41.71,186.43 45.05,182.72 48.40,180.88 51.74,179.03 55.08,177.18 58.43,176.25 61.77,174.40 65.12,173.47 68.46,171.62 71.80,170.70 75.15,168.85 78.49,168.85 81.84,167.00 85.18,166.07 88.52,165.15 91.87,164.22 95.21,163.30 98.56,161.91" fill="none" stroke="#111" stroke-width="0.7"/>
<polyline points="18.30,222.50 21.64,221.57 24.99,216.03 28.33,209.55 31.68,204.93 35.02,200.30 38.36,197.53 41.71,193.82 45.05,191.05 48.40,188.28 51.74,186.43 55.08,184.57 58.43,182.72 61.77,180.88 65.12,179.03 68.46,177.18 71.80,176.25 75.15,174.40 78.49,173.47 81.84,172.55 85.18,171.62 88.52,170.70 91.87,169.78 95.21,168.85 98.56,167.93" fill="none" stroke="#d02020" stroke-width="0.7"/>
<circle cx="18.3" cy="222.5" r="1.25" fill="#d42020" stroke="none" stroke-width="0.4"/>
<circle cx="21.644000000000002" cy="221.575" r="1.25" fill="#d42020" stroke="none" stroke-width="0.4"/>
<circle cx="24.988" cy="216.025" r="1.25" fill="#d42020" stroke="none" stroke-width="0.4"/>
<circle cx="28.332" cy="209.55" r="1.25" fill="#d42020" stroke="none" stroke-width="0.4"/>
<circle cx="31.676000000000002" cy="204.925" r="1.25" fill="#d42020" stroke="none" stroke-width="0.4"/>
<circle cx="35.019999999999996" cy="200.3" r="1.25" fill="#d42020" stroke="none" stroke-width="0.4"/>
<circle cx="38.364000000000004" cy="197.525" r="1.25" fill="#d42020" stroke="none" stroke-width="0.4"/>
<circle cx="41.708" cy="193.825" r="1.25" fill="#d42020" stroke="none" stroke-width="0.4"/>
<circle cx="45.052" cy="191.05" r="1.25" fill="#d42020" stroke="none" stroke-width="0.4"/>
<circle cx="48.396" cy="188.275" r="1.25" fill="#d42020" stroke="none" stroke-width="0.4"/>
<circle cx="51.739999999999995" cy="186.425" r="1.25" fill="#d42020" stroke="none" stroke-width="0.4"/>
<circle cx="55.084" cy="184.575" r="1.25" fill="#d42020" stroke="none" stroke-width="0.4"/>
<circle cx="58.428" cy="182.725" r="1.25" fill="#d42020" stroke="none" stroke-width="0.4"/>
<circle cx="61.77199999999999" cy="180.875" r="1.25" fill="#d42020" stroke="none" stroke-width="0.4"/>
<circle cx="65.116" cy="179.025" r="1.25" fill="#d42020" stroke="none" stroke-width="0.4"/>
<circle cx="68.46" cy="177.175" r="1.25" fill="#d42020" stroke="none" stroke-width="0.4"/>
<circle cx="71.804" cy="176.25" r="1.25" fill="#d42020" stroke="none" stroke-width="0.4"/>
<circle cx="75.148" cy="174.4" r="1.25" fill="#d42020" stroke="none" stroke-width="0.4"/>
<circle cx="78.49199999999999" cy="173.475" r="1.25" fill="#d42020" stroke="none" stroke-width="0.4"/>
<circle cx="81.836" cy="172.55" r="1.25" fill="#d42020" stroke="none" stroke-width="0.4"/>
<circle cx="85.17999999999999" cy="171.625" r="1.25" fill="#d42020" stroke="none" stroke-width="0.4"/>
<circle cx="88.52399999999999" cy="170.7" r="1.25" fill="#d42020" stroke="none" stroke-width="0.4"/>
<circle cx="91.868" cy="169.775" r="1.25" fill="#d42020" stroke="none" stroke-width="0.4"/>
<circle cx="95.21199999999999" cy="168.85" r="1.25" fill="#d42020" stroke="none" stroke-width="0.4"/>
<circle cx="98.556" cy="167.925" r="1.25" fill="#d42020" stroke="none" stroke-width="0.4"/>
<circle cx="18.3" cy="222.5" r="1.25" fill="#111" stroke="none" stroke-width="0.4"/>
<circle cx="21.644000000000002" cy="220.65" r="1.25" fill="#111" stroke="none" stroke-width="0.4"/>
<circle cx="24.988" cy="211.4" r="1.25" fill="#111" stroke="none" stroke-width="0.4"/>
<circle cx="28.332" cy="204.925" r="1.25" fill="#111" stroke="none" stroke-width="0.4"/>
<circle cx="31.676000000000002" cy="196.6" r="1.25" fill="#111" stroke="none" stroke-width="0.4"/>
<circle cx="35.019999999999996" cy="191.975" r="1.25" fill="#111" stroke="none" stroke-width="0.4"/>
<circle cx="38.364000000000004" cy="189.2" r="1.25" fill="#111" stroke="none" stroke-width="0.4"/>
<circle cx="41.708" cy="186.425" r="1.25" fill="#111" stroke="none" stroke-width="0.4"/>
<circle cx="45.052" cy="182.725" r="1.25" fill="#111" stroke="none" stroke-width="0.4"/>
<circle cx="48.396" cy="180.875" r="1.25" fill="#111" stroke="none" stroke-width="0.4"/>
<circle cx="51.739999999999995" cy="179.025" r="1.25" fill="#111" stroke="none" stroke-width="0.4"/>
<circle cx="55.084" cy="177.175" r="1.25" fill="#111" stroke="none" stroke-width="0.4"/>
<circle cx="58.428" cy="176.25" r="1.25" fill="#111" stroke="none" stroke-width="0.4"/>
<circle cx="61.77199999999999" cy="174.4" r="1.25" fill="#111" stroke="none" stroke-width="0.4"/>
<circle cx="65.116" cy="173.475" r="1.25" fill="#111" stroke="none" stroke-width="0.4"/>
<circle cx="68.46" cy="171.625" r="1.25" fill="#111" stroke="none" stroke-width="0.4"/>
<circle cx="71.804" cy="170.7" r="1.25" fill="#111" stroke="none" stroke-width="0.4"/>
<circle cx="75.148" cy="168.85" r="1.25" fill="#111" stroke="none" stroke-width="0.4"/>
<circle cx="78.49199999999999" cy="168.85" r="1.25" fill="#111" stroke="none" stroke-width="0.4"/>
<circle cx="81.836" cy="167.0" r="1.25" fill="#111" stroke="none" stroke-width="0.4"/>
<circle cx="85.17999999999999" cy="166.075" r="1.25" fill="#111" stroke="none" stroke-width="0.4"/>
<circle cx="88.52399999999999" cy="165.15" r="1.25" fill="#111" stroke="none" stroke-width="0.4"/>
<circle cx="91.868" cy="164.225" r="1.25" fill="#111" stroke="none" stroke-width="0.4"/>
<circle cx="95.21199999999999" cy="163.3" r="1.25" fill="#111" stroke="none" stroke-width="0.4"/>
<circle cx="98.556" cy="161.9125" r="1.25" fill="#111" stroke="none" stroke-width="0.4"/>
<text x="112.1" y="136.4" font-size="11" font-weight="bold" fill="#000" text-anchor="start" stroke="#000" stroke-width="0.18" >F</text>
<line x1="145" y1="148.5" x2="145" y2="222.5" stroke="#555" stroke-width="0.75" />
<line x1="143.5" y1="222.5" x2="145" y2="222.5" stroke="#555" stroke-width="0.75" />
<text x="141.6" y="224.5" font-size="6.2" font-weight="normal" fill="#333" text-anchor="end" stroke="#333" stroke-width="0.18" >0</text>
<line x1="143.5" y1="204.0" x2="145" y2="204.0" stroke="#555" stroke-width="0.75" />
<text x="141.6" y="206.0" font-size="6.2" font-weight="normal" fill="#333" text-anchor="end" stroke="#333" stroke-width="0.18" >20</text>
<line x1="143.5" y1="185.5" x2="145" y2="185.5" stroke="#555" stroke-width="0.75" />
<text x="141.6" y="187.5" font-size="6.2" font-weight="normal" fill="#333" text-anchor="end" stroke="#333" stroke-width="0.18" >40</text>
<line x1="143.5" y1="167.0" x2="145" y2="167.0" stroke="#555" stroke-width="0.75" />
<text x="141.6" y="169.0" font-size="6.2" font-weight="normal" fill="#333" text-anchor="end" stroke="#333" stroke-width="0.18" >60</text>
<line x1="143.5" y1="148.5" x2="145" y2="148.5" stroke="#555" stroke-width="0.75" />
<text x="141.6" y="150.5" font-size="6.2" font-weight="normal" fill="#333" text-anchor="end" stroke="#333" stroke-width="0.18" >80</text>
<line x1="145" y1="222.5" x2="170" y2="222.5" stroke="#555" stroke-width="0.75" />
<rect x="147.5" y="161.45" width="10" height="61.05000000000001" fill="#000" stroke="none" stroke-width="0.5" />
<rect x="158.8" y="167.0" width="9.3" height="55.5" fill="#d42020" stroke="#222" stroke-width="0.5" />
<line x1="152.3" y1="161.45" x2="152.3" y2="153.2" stroke="#000" stroke-width="0.8" />
<line x1="148.8" y1="153.2" x2="155.6" y2="153.2" stroke="#000" stroke-width="0.9" />
<line x1="163.5" y1="167.0" x2="163.5" y2="159.6" stroke="#222" stroke-width="0.7" />
<line x1="161.3" y1="159.6" x2="165.7" y2="159.6" stroke="#222" stroke-width="0.7" />
<line x1="152.3" y1="148.9" x2="162.6" y2="148.9" stroke="#444" stroke-width="0.7" />
<line x1="152.3" y1="148.9" x2="152.3" y2="150.1" stroke="#444" stroke-width="0.6" />
<line x1="162.6" y1="148.9" x2="162.6" y2="150.1" stroke="#444" stroke-width="0.6" />
<text x="155.94" y="150.62" font-size="8.2" font-weight="bold" fill="#000" text-anchor="start" stroke="#000" stroke-width="0.18" >*</text>
<rect x="148.2" y="210.2" width="9.6" height="7.4" fill="#c9c6d6" stroke="none" stroke-width="0.5" />
<rect x="158.8" y="210.2" width="9.0" height="7.4" fill="#efc3a8" stroke="none" stroke-width="0.5" />
<text x="148.4" y="216.6" font-size="6.8" font-weight="bold" fill="#333" text-anchor="start" stroke="#333" stroke-width="0.18" textLength="9.2" lengthAdjust="spacingAndGlyphs" >-10</text>
<text x="160.2" y="216.6" font-size="6.8" font-weight="bold" fill="#5a3a2a" text-anchor="start" stroke="#5a3a2a" stroke-width="0.18" textLength="6.2" lengthAdjust="spacingAndGlyphs" >%</text>
<text transform="translate(133.4,179.8) rotate(-90)" font-size="7" font-weight="bold" fill="#111" text-anchor="middle" textLength="59" lengthAdjust="spacingAndGlyphs"><tspan font-style="italic">NKmK</tspan> 240 min (%)</text>
<rect x="179.8" y="180.1" width="5.3" height="5.1" fill="#000" stroke="none" stroke-width="0.5" />
<rect x="179.8" y="190.3" width="5.3" height="5.2" fill="#d42020" stroke="#333" stroke-width="0.4" />
<text x="187.9" y="185.6" font-size="6.4" font-weight="normal" fill="#1a1a1a" text-anchor="start" stroke="#1a1a1a" stroke-width="0.18" textLength="15.4" lengthAdjust="spacingAndGlyphs" >CTRL</text>
<text x="187.9" y="195.5" font-size="6.4" font-weight="normal" fill="#1a1a1a" text-anchor="start" stroke="#1a1a1a" stroke-width="0.18" textLength="36.1" lengthAdjust="spacingAndGlyphs" >RAPTOR KD</text>
<text x="232.6" y="137.1" font-size="11" font-weight="bold" fill="#000" text-anchor="start" stroke="#000" stroke-width="0.18" >G</text>
<rect x="256.7" y="153.4" width="60.5" height="59.400000000000006" fill="none" stroke="#b8b8b8" stroke-width="0.5"/>
<path d="M274.22,212.6 L274.22,212.28 L274.47,212.12 L274.72,211.88 L274.97,211.56 L275.22,211.10 L275.47,210.49 L275.72,209.68 L275.97,208.62 L276.22,207.28 L276.47,205.60 L276.72,203.55 L276.97,201.10 L277.22,198.25 L277.47,194.99 L277.72,191.36 L277.97,187.42 L278.22,183.27 L278.47,179.02 L278.72,174.81 L278.97,170.80 L279.22,167.17 L279.47,164.06 L279.72,161.63 L279.97,160.00 L280.22,159.25 L280.47,159.35 L280.72,160.08 L280.97,161.42 L281.22,163.31 L281.47,165.68 L281.72,168.47 L281.97,171.57 L282.22,174.91 L282.47,178.38 L282.72,181.90 L282.97,185.38 L283.22,188.75 L283.47,191.94 L283.72,194.92 L283.97,197.65 L284.22,200.10 L284.47,202.28 L284.72,204.17 L284.97,205.80 L285.22,207.18 L285.47,208.33 L285.72,209.28 L285.97,210.04 L286.22,210.65 L286.47,211.14 L286.72,211.51 L286.97,211.80 L287.22,212.02 L287.47,212.19 L287.66,212.6 Z" fill="#dcdcdc" stroke="#b0b0b0" stroke-width="0.4"/>
<path d="M275.08,212.6 L275.08,212.42 L275.33,212.35 L275.58,212.27 L275.83,212.16 L276.08,212.02 L276.33,211.84 L276.58,211.62 L276.83,211.35 L277.08,211.01 L277.33,210.60 L277.58,210.11 L277.83,209.53 L278.08,208.84 L278.33,208.04 L278.58,207.13 L278.83,206.09 L279.08,204.93 L279.33,203.64 L279.58,202.24 L279.83,200.72 L280.08,199.10 L280.33,197.41 L280.58,195.66 L280.83,193.89 L281.08,192.12 L281.33,190.38 L281.58,188.73 L281.83,187.18 L282.08,185.79 L282.33,184.58 L282.58,183.58 L282.83,182.82 L283.08,182.33 L283.33,182.11 L283.58,182.15 L283.83,182.41 L284.08,182.87 L284.33,183.53 L284.58,184.37 L284.83,185.38 L285.08,186.53 L285.33,187.80 L285.58,189.18 L285.83,190.63 L286.08,192.14 L286.33,193.67 L286.58,195.21 L286.83,196.73 L287.08,198.23 L287.33,199.67 L287.58,201.05 L287.83,202.35 L288.08,203.57 L288.33,204.70 L288.58,205.73 L288.83,206.67 L289.08,207.52 L289.33,208.28 L289.58,208.95 L289.83,209.53 L290.08,210.04 L290.33,210.48 L290.58,210.86 L290.83,211.18 L291.08,211.45 L291.33,211.67 L291.58,211.86 L291.83,212.01 L292.08,212.14 L292.33,212.24 L292.58,212.32 L292.83,212.38 L293.0,212.6 Z" fill="#c98a80" stroke="#9a5a50" stroke-width="0.3"/>
<path d="M277.12,212.6 L277.12,212.44 L277.37,212.37 L277.62,212.29 L277.87,212.17 L278.12,212.03 L278.37,211.84 L278.62,211.60 L278.87,211.30 L279.12,210.93 L279.37,210.47 L279.62,209.92 L279.87,209.27 L280.12,208.49 L280.37,207.59 L280.62,206.57 L280.87,205.40 L281.12,204.11 L281.37,202.70 L281.62,201.17 L281.87,199.55 L282.12,197.86 L282.37,196.13 L282.62,194.40 L282.87,192.70 L283.12,191.08 L283.37,189.57 L283.62,188.23 L283.87,187.09 L284.12,186.18 L284.37,185.54 L284.62,185.18 L284.87,185.11 L285.12,185.32 L285.37,185.81 L285.62,186.54 L285.87,187.51 L286.12,188.68 L286.37,190.02 L286.62,191.50 L286.87,193.08 L287.12,194.72 L287.37,196.39 L287.62,198.04 L287.87,199.66 L288.12,201.21 L288.37,202.68 L288.62,204.04 L288.87,205.29 L289.12,206.42 L289.37,207.43 L289.62,208.31 L289.87,209.08 L290.12,209.74 L290.37,210.30 L290.62,210.77 L290.87,211.16 L291.12,211.47 L291.37,211.73 L291.62,211.93 L291.87,212.10 L292.12,212.22 L292.37,212.32 L292.62,212.39 L292.8,212.6 Z" fill="#8e3a30" stroke="#5a1a14" stroke-width="0.3"/>
<line x1="256.7" y1="153.4" x2="256.7" y2="212.8" stroke="#666" stroke-width="0.6" />
<line x1="256.7" y1="212.8" x2="317.2" y2="212.8" stroke="#666" stroke-width="0.6" />
<line x1="255.1" y1="212.5" x2="256.7" y2="212.5" stroke="#666" stroke-width="0.6" />
<text x="249.6" y="214.5" font-size="5.9" font-weight="normal" fill="#333" text-anchor="end" stroke="#333" stroke-width="0.18" >0</text>
<line x1="255.1" y1="202.3" x2="256.7" y2="202.3" stroke="#666" stroke-width="0.6" />
<text x="253.6" y="204.3" font-size="5.9" font-weight="normal" fill="#333" text-anchor="end" stroke="#333" stroke-width="0.18" >100</text>
<line x1="255.1" y1="192.0" x2="256.7" y2="192.0" stroke="#666" stroke-width="0.6" />
<text x="253.6" y="194.0" font-size="5.9" font-weight="normal" fill="#333" text-anchor="end" stroke="#333" stroke-width="0.18" >200</text>
<line x1="255.1" y1="181.7" x2="256.7" y2="181.7" stroke="#666" stroke-width="0.6" />
<text x="253.6" y="183.7" font-size="5.9" font-weight="normal" fill="#333" text-anchor="end" stroke="#333" stroke-width="0.18" >300</text>
<line x1="255.1" y1="171.4" x2="256.7" y2="171.4" stroke="#666" stroke-width="0.6" />
<text x="253.6" y="173.4" font-size="5.9" font-weight="normal" fill="#333" text-anchor="end" stroke="#333" stroke-width="0.18" >400</text>
<line x1="255.1" y1="161.1" x2="256.7" y2="161.1" stroke="#666" stroke-width="0.6" />
<text x="253.6" y="163.1" font-size="5.9" font-weight="normal" fill="#333" text-anchor="end" stroke="#333" stroke-width="0.18" >500</text>
<line x1="263.3" y1="212.8" x2="263.3" y2="214.20000000000002" stroke="#666" stroke-width="0.5" />
<text x="262.1" y="221" font-size="5.6" fill="#333" text-anchor="middle">10<tspan font-size="3.2" dy="-2.4">1</tspan></text>
<line x1="275.3" y1="212.8" x2="275.3" y2="214.20000000000002" stroke="#666" stroke-width="0.5" />
<text x="274.1" y="221" font-size="5.6" fill="#333" text-anchor="middle">10<tspan font-size="3.2" dy="-2.4">2</tspan></text>
<line x1="287.6" y1="212.8" x2="287.6" y2="214.20000000000002" stroke="#666" stroke-width="0.5" />
<text x="286.40000000000003" y="221" font-size="5.6" fill="#333" text-anchor="middle">10<tspan font-size="3.2" dy="-2.4">3</tspan></text>
<line x1="299.9" y1="212.8" x2="299.9" y2="214.20000000000002" stroke="#666" stroke-width="0.5" />
<text x="298.7" y="221" font-size="5.6" fill="#333" text-anchor="middle">10<tspan font-size="3.2" dy="-2.4">4</tspan></text>
<line x1="312.2" y1="212.8" x2="312.2" y2="214.20000000000002" stroke="#666" stroke-width="0.5" />
<text x="311.0" y="221" font-size="5.6" fill="#333" text-anchor="middle">10<tspan font-size="3.2" dy="-2.4">5</tspan></text>
<text x="266.6" y="232.2" font-size="7.3" font-weight="bold" fill="#111" text-anchor="start" stroke="#111" stroke-width="0.18" textLength="36.5" lengthAdjust="spacingAndGlyphs" >MICA/MICB</text>
<text transform="translate(241.3,182.2) rotate(-90)" font-size="7" font-weight="bold" fill="#111" text-anchor="middle" stroke="#111" stroke-width="0.18" textLength="19.6" lengthAdjust="spacingAndGlyphs" >Count</text>
<rect x="283.4" y="160.2" width="2.8" height="2.8" fill="#000" stroke="none" stroke-width="0.5" />
<rect x="283.4" y="166.4" width="2.8" height="2.8" fill="#8e3a30" stroke="none" stroke-width="0.5" />
<rect x="283.4" y="172.6" width="2.8" height="2.8" fill="#f4f4f4" stroke="#777" stroke-width="0.35" />
<text x="287.4" y="163.0" font-size="4.6" font-weight="bold" fill="#111" text-anchor="start" stroke="#111" stroke-width="0.18" textLength="12" lengthAdjust="spacingAndGlyphs" >CTRL</text>
<text x="287.4" y="169.2" font-size="4.6" font-weight="bold" fill="#111" text-anchor="start" stroke="#111" stroke-width="0.18" textLength="29.5" lengthAdjust="spacingAndGlyphs" >RAPTOR  KD</text>
<text x="287.4" y="175.4" font-size="4.6" font-weight="bold" fill="#111" text-anchor="start" stroke="#111" stroke-width="0.18" textLength="19.5" lengthAdjust="spacingAndGlyphs" >Iso CTRL</text>
<text x="331.2" y="136.8" font-size="11" font-weight="bold" fill="#000" text-anchor="start" stroke="#000" stroke-width="0.18" >H</text>
<line x1="361.6" y1="148" x2="361.6" y2="223" stroke="#666" stroke-width="0.7" />
<text x="359.8" y="225.1" font-size="6" font-weight="normal" fill="#333" text-anchor="end" stroke="#333" stroke-width="0.18" >0</text>
<text x="359.8" y="212.6" font-size="6" font-weight="normal" fill="#333" text-anchor="end" stroke="#333" stroke-width="0.18" >100</text>
<text x="359.8" y="200.1" font-size="6" font-weight="normal" fill="#333" text-anchor="end" stroke="#333" stroke-width="0.18" >200</text>
<text x="359.8" y="187.6" font-size="6" font-weight="normal" fill="#333" text-anchor="end" stroke="#333" stroke-width="0.18" >300</text>
<text x="359.8" y="175.1" font-size="6" font-weight="normal" fill="#333" text-anchor="end" stroke="#333" stroke-width="0.18" >400</text>
<text x="359.8" y="162.6" font-size="6" font-weight="normal" fill="#333" text-anchor="end" stroke="#333" stroke-width="0.18" >500</text>
<text x="359.8" y="150.1" font-size="6" font-weight="normal" fill="#333" text-anchor="end" stroke="#333" stroke-width="0.18" >600</text>
<line x1="361.6" y1="223" x2="386" y2="223" stroke="#666" stroke-width="0.7" />
<rect x="363.4" y="158.0" width="8.6" height="65.0" fill="#000" stroke="none" stroke-width="0.5" />
<rect x="374.8" y="177.75" width="9.2" height="45.25" fill="#d42020" stroke="#222" stroke-width="0.5" />
<line x1="379.6" y1="177.75" x2="379.6" y2="173.625" stroke="#222" stroke-width="0.8" />
<line x1="376.2" y1="173.625" x2="383" y2="173.625" stroke="#222" stroke-width="0.9" />
<line x1="368.9" y1="153.2" x2="379.8" y2="153.2" stroke="#333" stroke-width="0.6" />
<line x1="368.9" y1="153.2" x2="368.9" y2="154.4" stroke="#333" stroke-width="0.6" />
<line x1="379.8" y1="153.2" x2="379.8" y2="154.4" stroke="#333" stroke-width="0.6" />
<text x="372.84" y="154.82" font-size="8.2" font-weight="bold" fill="#000" text-anchor="start" stroke="#000" stroke-width="0.18" >*</text>
<text transform="translate(345.7,185) rotate(-90)" font-size="6.8" font-weight="bold" fill="#111" text-anchor="middle" stroke="#111" stroke-width="0.18" textLength="24.6" lengthAdjust="spacingAndGlyphs" >Net MFI</text>
<rect x="395.8" y="180.6" width="5.2" height="4.7" fill="#000" stroke="none" stroke-width="0.5" />
<rect x="395.8" y="190.8" width="5.2" height="5.2" fill="#d42020" stroke="#333" stroke-width="0.4" />
<text x="404" y="185.7" font-size="6.4" font-weight="normal" fill="#1a1a1a" text-anchor="start" stroke="#1a1a1a" stroke-width="0.18" textLength="15.4" lengthAdjust="spacingAndGlyphs" >CTRL</text>
<text x="404" y="196" font-size="6.4" font-weight="normal" fill="#1a1a1a" text-anchor="start" stroke="#1a1a1a" stroke-width="0.18" textLength="36.7" lengthAdjust="spacingAndGlyphs" >RAPTOR KD</text>
<text x="2.6" y="261.2" font-size="11" font-weight="bold" fill="#000" text-anchor="start" stroke="#000" stroke-width="0.18" >I</text>
<rect x="38.4" y="262.0" width="35.5" height="35.5" fill="#c2c7c0" stroke="#3a3a3a" stroke-width="0.9" />
<rect x="38.9" y="262.5" width="34.5" height="34.5" fill="url(#speck)" opacity="0.55"/>
<line x1="68.4" y1="294.3" x2="70.9" y2="294.3" stroke="#333" stroke-width="0.7" />
<rect x="38.4" y="299.6" width="35.5" height="35.39999999999998" fill="#c2c7c0" stroke="#3a3a3a" stroke-width="0.9" />
<rect x="38.9" y="300.1" width="34.5" height="34.39999999999998" fill="url(#speck)" opacity="0.55"/>
<line x1="68.4" y1="331.8" x2="70.9" y2="331.8" stroke="#333" stroke-width="0.7" />
<rect x="38.4" y="337.2" width="35.5" height="35.80000000000001" fill="#c2c7c0" stroke="#d84454" stroke-width="0.9" />
<rect x="38.9" y="337.7" width="34.5" height="34.80000000000001" fill="url(#speck)" opacity="0.55"/>
<line x1="68.4" y1="369.8" x2="70.9" y2="369.8" stroke="#333" stroke-width="0.7" />
<g filter="url(#ib)">
<ellipse cx="56.5" cy="279.7" rx="9.4" ry="8.6" fill="#0c1612" />
<ellipse cx="56.0" cy="278.6" rx="3.8" ry="2.8" fill="#d81818" />
<ellipse cx="55.9" cy="317.2" rx="7.6" ry="8.8" fill="#6a1a0e" />
<ellipse cx="55.9" cy="317.0" rx="5.6" ry="6.8" fill="#c82412" />
<ellipse cx="56.4" cy="316.0" rx="2.8" ry="3.2" fill="#e03a1a" />
<ellipse cx="55.9" cy="356.6" rx="9.6" ry="6.2" fill="#0a140e" />
<ellipse cx="56.4" cy="356.0" rx="3.8" ry="2.0" fill="#d81a1a" />
</g>
<text transform="translate(33.5,279.5) rotate(-90)" font-size="7" font-weight="normal" fill="#111" text-anchor="middle" stroke="#111" stroke-width="0.18" textLength="17" lengthAdjust="spacingAndGlyphs" >CTRL</text>
<text transform="translate(15.4,319.8) rotate(-90)" font-size="7.5" font-weight="normal" fill="#111" text-anchor="middle" textLength="31" lengthAdjust="spacingAndGlyphs" stroke="#111" stroke-width="0.3">WM983B</text>
<text transform="translate(26.0,317.7) rotate(-90)" font-size="7" font-weight="normal" fill="#111" text-anchor="middle" stroke="#111" stroke-width="0.18" textLength="17.7" lengthAdjust="spacingAndGlyphs" >CTRL</text>
<text transform="translate(33.2,318.5) rotate(-90)" font-size="7" font-weight="normal" fill="#111" text-anchor="middle" stroke="#111" stroke-width="0.18" textLength="19" lengthAdjust="spacingAndGlyphs" >+ pNK</text>
<text transform="translate(26.0,356.7) rotate(-90)" font-size="7" font-weight="normal" fill="#111" text-anchor="middle" stroke="#111" stroke-width="0.18" textLength="15.8" lengthAdjust="spacingAndGlyphs" >Rapa</text>
<text transform="translate(33.2,356.2) rotate(-90)" font-size="7" font-weight="normal" fill="#111" text-anchor="middle" stroke="#111" stroke-width="0.18" textLength="21" lengthAdjust="spacingAndGlyphs" >+ pNK</text>
<text x="88.9" y="261.8" font-size="11" font-weight="bold" fill="#000" text-anchor="start" stroke="#000" stroke-width="0.18" >J</text>
<text x="135.1" y="273.3" font-size="7.4" font-weight="normal" fill="#111" text-anchor="start" textLength="33" lengthAdjust="spacingAndGlyphs" stroke="#111" stroke-width="0.25">WM983B</text>
<line x1="120.4" y1="274.8" x2="120.4" y2="349.6" stroke="#555" stroke-width="0.75" />
<line x1="118.6" y1="349.6" x2="120.4" y2="349.6" stroke="#555" stroke-width="0.75" />
<text x="117.8" y="351.70000000000005" font-size="6" font-weight="normal" fill="#333" text-anchor="end" stroke="#333" stroke-width="0.18" >0</text>
<line x1="118.6" y1="330.95000000000005" x2="120.4" y2="330.95000000000005" stroke="#555" stroke-width="0.75" />
<text x="117.8" y="333.05000000000007" font-size="6" font-weight="normal" fill="#333" text-anchor="end" stroke="#333" stroke-width="0.18" >250</text>
<line x1="118.6" y1="312.3" x2="120.4" y2="312.3" stroke="#555" stroke-width="0.75" />
<text x="117.8" y="314.40000000000003" font-size="6" font-weight="normal" fill="#333" text-anchor="end" stroke="#333" stroke-width="0.18" >500</text>
<line x1="118.6" y1="293.65000000000003" x2="120.4" y2="293.65000000000003" stroke="#555" stroke-width="0.75" />
<text x="117.8" y="295.75000000000006" font-size="6" font-weight="normal" fill="#333" text-anchor="end" stroke="#333" stroke-width="0.18" >750</text>
<line x1="118.6" y1="275.0" x2="120.4" y2="275.0" stroke="#555" stroke-width="0.75" />
<text x="117.8" y="277.1" font-size="6" font-weight="normal" fill="#333" text-anchor="end" stroke="#333" stroke-width="0.18" >1,000</text>
<line x1="120.4" y1="349.6" x2="179" y2="349.6" stroke="#555" stroke-width="0.75" />
<rect x="130.1" y="312.3" width="10.2" height="37.30000000000001" fill="#5e8c78" stroke="#1a2a22" stroke-width="0.6" />
<rect x="147.0" y="292.158" width="10.2" height="57.44200000000001" fill="#6e6e6e" stroke="#2a2a2a" stroke-width="0.6" />
<rect x="164.4" y="319.387" width="10.2" height="30.213000000000022" fill="#e43030" stroke="#4a1010" stroke-width="0.6" />
<line x1="152.1" y1="292.158" x2="152.1" y2="287.08520000000004" stroke="#333" stroke-width="0.8" />
<line x1="149.4" y1="287.08520000000004" x2="154.8" y2="287.08520000000004" stroke="#333" stroke-width="0.9" />
<line x1="169.5" y1="319.387" x2="169.5" y2="316.6268" stroke="#333" stroke-width="0.8" />
<line x1="166.8" y1="316.6268" x2="172.2" y2="316.6268" stroke="#333" stroke-width="0.9" />
<line x1="134.8" y1="282.1" x2="151.4" y2="282.1" stroke="#777" stroke-width="0.6" />
<line x1="154.2" y1="282.1" x2="168" y2="282.1" stroke="#777" stroke-width="0.6" />
<text x="141.74" y="283.82" font-size="8.2" font-weight="bold" fill="#000" text-anchor="start" stroke="#000" stroke-width="0.18" >*</text>
<text x="157.14" y="283.82" font-size="8.2" font-weight="bold" fill="#000" text-anchor="start" stroke="#000" stroke-width="0.18" >*</text>
<text x="161.14" y="283.82" font-size="8.2" font-weight="bold" fill="#000" text-anchor="start" stroke="#000" stroke-width="0.18" >*</text>
<text x="165.24" y="283.82" font-size="8.2" font-weight="bold" fill="#000" text-anchor="start" stroke="#000" stroke-width="0.18" >*</text>
<text x="109.2" y="359.5" font-size="6.8" font-weight="bold" fill="#111" text-anchor="start" stroke="#111" stroke-width="0.18" textLength="16" lengthAdjust="spacingAndGlyphs" >Rapa</text>
<text x="110.8" y="367.3" font-size="6.8" font-weight="bold" fill="#111" text-anchor="start" stroke="#111" stroke-width="0.18" textLength="13.8" lengthAdjust="spacingAndGlyphs" >pNK</text>
<text x="134.8" y="360.0" font-size="8" font-weight="bold" fill="#111" text-anchor="middle" stroke="#111" stroke-width="0.18" >-</text>
<text x="134.8" y="367.8" font-size="8" font-weight="bold" fill="#111" text-anchor="middle" stroke="#111" stroke-width="0.18" >-</text>
<text x="152.2" y="360.0" font-size="8" font-weight="bold" fill="#111" text-anchor="middle" stroke="#111" stroke-width="0.18" >-</text>
<text x="152.2" y="367.8" font-size="8" font-weight="bold" fill="#111" text-anchor="middle" stroke="#111" stroke-width="0.18" >+</text>
<text x="170.5" y="360.0" font-size="8" font-weight="bold" fill="#111" text-anchor="middle" stroke="#111" stroke-width="0.18" >+</text>
<text x="170.5" y="367.8" font-size="8" font-weight="bold" fill="#111" text-anchor="middle" stroke="#111" stroke-width="0.18" >+</text>
<text transform="translate(95.5,310.9) rotate(-90)" font-size="7" font-weight="bold" fill="#111" text-anchor="middle" stroke="#111" stroke-width="0.18" textLength="32.2" lengthAdjust="spacingAndGlyphs" >Dead cells</text>
<text transform="translate(101.6,311.3) rotate(-90)" font-size="6.5" font-weight="bold" fill="#111" text-anchor="middle" textLength="52.2" lengthAdjust="spacingAndGlyphs">(x 10<tspan font-size="3.8" dy="-2.5">7</tspan><tspan dy="2.5"> pixels/µm)</tspan></text>
<text x="230.9" y="260.8" font-size="11" font-weight="bold" fill="#000" text-anchor="start" stroke="#000" stroke-width="0.18" >K</text>
<line x1="258.4" y1="274.5" x2="258.4" y2="347.9" stroke="#555" stroke-width="0.75" />
<line x1="255.8" y1="347.9" x2="258.4" y2="347.9" stroke="#555" stroke-width="0.75" />
<text x="253.8" y="350.0" font-size="6" font-weight="normal" fill="#333" text-anchor="end" stroke="#333" stroke-width="0.18" >0</text>
<line x1="255.8" y1="323.45" x2="258.4" y2="323.45" stroke="#555" stroke-width="0.75" />
<text x="253.8" y="325.55" font-size="6" font-weight="normal" fill="#333" text-anchor="end" stroke="#333" stroke-width="0.18" >500</text>
<line x1="255.8" y1="299.0" x2="258.4" y2="299.0" stroke="#555" stroke-width="0.75" />
<text x="253.8" y="301.1" font-size="6" font-weight="normal" fill="#333" text-anchor="end" stroke="#333" stroke-width="0.18" >1,000</text>
<line x1="255.8" y1="274.54999999999995" x2="258.4" y2="274.54999999999995" stroke="#555" stroke-width="0.75" />
<text x="253.8" y="276.65" font-size="6" font-weight="normal" fill="#333" text-anchor="end" stroke="#333" stroke-width="0.18" >1,500</text>
<line x1="258.4" y1="347.9" x2="323.5" y2="347.9" stroke="#555" stroke-width="0.75" />
<line x1="262.2" y1="347.9" x2="262.2" y2="349.7" stroke="#555" stroke-width="0.75" />
<text x="262.2" y="355.8" font-size="6.3" font-weight="normal" fill="#222" text-anchor="middle" stroke="#222" stroke-width="0.18" >9</text>
<line x1="271.779" y1="347.9" x2="271.779" y2="349.7" stroke="#555" stroke-width="0.75" />
<text x="271.779" y="355.8" font-size="6.3" font-weight="normal" fill="#222" text-anchor="middle" stroke="#222" stroke-width="0.18" >12</text>
<line x1="281.358" y1="347.9" x2="281.358" y2="349.7" stroke="#555" stroke-width="0.75" />
<text x="281.358" y="355.8" font-size="6.3" font-weight="normal" fill="#222" text-anchor="middle" stroke="#222" stroke-width="0.18" >15</text>
<line x1="290.937" y1="347.9" x2="290.937" y2="349.7" stroke="#555" stroke-width="0.75" />
<text x="290.937" y="355.8" font-size="6.3" font-weight="normal" fill="#222" text-anchor="middle" stroke="#222" stroke-width="0.18" >18</text>
<line x1="300.51599999999996" y1="347.9" x2="300.51599999999996" y2="349.7" stroke="#555" stroke-width="0.75" />
<text x="300.51599999999996" y="355.8" font-size="6.3" font-weight="normal" fill="#222" text-anchor="middle" stroke="#222" stroke-width="0.18" >21</text>
<line x1="310.09499999999997" y1="347.9" x2="310.09499999999997" y2="349.7" stroke="#555" stroke-width="0.75" />
<text x="310.09499999999997" y="355.8" font-size="6.3" font-weight="normal" fill="#222" text-anchor="middle" stroke="#222" stroke-width="0.18" >24</text>
<line x1="319.674" y1="347.9" x2="319.674" y2="349.7" stroke="#555" stroke-width="0.75" />
<text x="319.674" y="355.8" font-size="6.3" font-weight="normal" fill="#222" text-anchor="middle" stroke="#222" stroke-width="0.18" >27</text>
<text x="275.5" y="366.3" font-size="7.2" font-weight="bold" fill="#111" text-anchor="start" stroke="#111" stroke-width="0.18" textLength="38.5" lengthAdjust="spacingAndGlyphs" >Time (days)</text>
<text x="262.1" y="282.2" font-size="6.8" font-weight="bold" fill="#1a1a1a" text-anchor="start" stroke="#1a1a1a" stroke-width="0.18" textLength="24.4" lengthAdjust="spacingAndGlyphs" >1205Lu</text>
<text transform="translate(236.4,309.5) rotate(-90)" font-size="7" font-weight="bold" fill="#111" text-anchor="middle" textLength="75" lengthAdjust="spacingAndGlyphs">Volume of tumor in mm<tspan font-size="4" dy="-2.8">3</tspan></text>
<line x1="300.51599999999996" y1="323.93899999999996" x2="300.51599999999996" y2="319.78249999999997" stroke="#222" stroke-width="0.6" />
<line x1="298.91599999999994" y1="319.78249999999997" x2="302.116" y2="319.78249999999997" stroke="#222" stroke-width="0.6" />
<line x1="310.09499999999997" y1="305.11249999999995" x2="310.09499999999997" y2="301.445" stroke="#222" stroke-width="0.6" />
<line x1="308.49499999999995" y1="301.445" x2="311.695" y2="301.445" stroke="#222" stroke-width="0.6" />
<line x1="319.674" y1="292.39849999999996" x2="319.674" y2="286.53049999999996" stroke="#222" stroke-width="0.6" />
<line x1="318.07399999999996" y1="286.53049999999996" x2="321.274" y2="286.53049999999996" stroke="#222" stroke-width="0.6" />
<path d="M262.20,346.92 C263.80,346.76 268.59,346.68 271.78,345.94 C274.97,345.21 278.17,344.15 281.36,342.52 C284.55,340.89 287.74,339.26 290.94,336.16 C294.13,333.07 297.32,329.11 300.52,323.94 C303.71,318.76 306.90,310.37 310.09,305.11 C313.29,299.86 318.08,294.52 319.67,292.40" fill="none" stroke="#111" stroke-width="1.1"/>
<path d="M262.20,346.92 C263.80,346.76 268.59,346.11 271.78,345.94 C274.97,345.78 278.17,346.07 281.36,345.94 C284.55,345.82 287.74,345.45 290.94,345.21 C294.13,344.97 297.32,344.93 300.52,344.48 C303.71,344.03 306.90,343.25 310.09,342.52 C313.29,341.79 318.08,340.48 319.67,340.08" fill="none" stroke="#c82828" stroke-width="1.1"/>
<circle cx="262.2" cy="346.92199999999997" r="1.9" fill="#111" stroke="none" stroke-width="0.4"/>
<circle cx="271.779" cy="345.94399999999996" r="1.9" fill="#111" stroke="none" stroke-width="0.4"/>
<circle cx="281.358" cy="342.52099999999996" r="1.9" fill="#111" stroke="none" stroke-width="0.4"/>
<circle cx="290.937" cy="336.164" r="1.9" fill="#111" stroke="none" stroke-width="0.4"/>
<circle cx="300.51599999999996" cy="323.93899999999996" r="1.9" fill="#111" stroke="none" stroke-width="0.4"/>
<circle cx="310.09499999999997" cy="305.11249999999995" r="1.9" fill="#111" stroke="none" stroke-width="0.4"/>
<circle cx="319.674" cy="292.39849999999996" r="1.9" fill="#111" stroke="none" stroke-width="0.4"/>
<circle cx="262.2" cy="346.92199999999997" r="1.9" fill="#c83030" stroke="#6a1414" stroke-width="0.4"/>
<circle cx="271.779" cy="345.94399999999996" r="1.9" fill="#c83030" stroke="#6a1414" stroke-width="0.4"/>
<circle cx="281.358" cy="345.94399999999996" r="1.9" fill="#c83030" stroke="#6a1414" stroke-width="0.4"/>
<circle cx="290.937" cy="345.21049999999997" r="1.9" fill="#c83030" stroke="#6a1414" stroke-width="0.4"/>
<circle cx="300.51599999999996" cy="344.477" r="1.9" fill="#c83030" stroke="#6a1414" stroke-width="0.4"/>
<circle cx="310.09499999999997" cy="342.52099999999996" r="1.9" fill="#c83030" stroke="#6a1414" stroke-width="0.4"/>
<circle cx="319.674" cy="340.07599999999996" r="1.9" fill="#c83030" stroke="#6a1414" stroke-width="0.4"/>
<text x="299.6" y="294.8" font-size="6.6" font-weight="bold" fill="#111">NS<tspan font-size="5.2" dy="1.6">γ</tspan></text>
<text x="307.8" y="336.6" font-size="6.3" font-weight="bold" fill="#d43434" text-anchor="start" stroke="#d43434" stroke-width="0.18" >NS</text>
<text x="333.4" y="260.9" font-size="11" font-weight="bold" fill="#000" text-anchor="start" stroke="#000" stroke-width="0.18" >L</text>
<line x1="355.8" y1="274.2" x2="355.8" y2="347.4" stroke="#555" stroke-width="0.75" />
<line x1="354" y1="347.4" x2="355.8" y2="347.4" stroke="#555" stroke-width="0.75" />
<text x="353.2" y="349.5" font-size="6.3" font-weight="normal" fill="#333" text-anchor="end" stroke="#333" stroke-width="0.18" >0</text>
<line x1="354" y1="329.09999999999997" x2="355.8" y2="329.09999999999997" stroke="#555" stroke-width="0.75" />
<text x="353.2" y="331.2" font-size="6.3" font-weight="normal" fill="#333" text-anchor="end" stroke="#333" stroke-width="0.18" >100</text>
<line x1="354" y1="310.79999999999995" x2="355.8" y2="310.79999999999995" stroke="#555" stroke-width="0.75" />
<text x="353.2" y="312.9" font-size="6.3" font-weight="normal" fill="#333" text-anchor="end" stroke="#333" stroke-width="0.18" >200</text>
<line x1="354" y1="292.5" x2="355.8" y2="292.5" stroke="#555" stroke-width="0.75" />
<text x="353.2" y="294.6" font-size="6.3" font-weight="normal" fill="#333" text-anchor="end" stroke="#333" stroke-width="0.18" >300</text>
<line x1="354" y1="274.2" x2="355.8" y2="274.2" stroke="#555" stroke-width="0.75" />
<text x="353.2" y="276.3" font-size="6.3" font-weight="normal" fill="#333" text-anchor="end" stroke="#333" stroke-width="0.18" >400</text>
<line x1="355.8" y1="347.4" x2="422" y2="347.4" stroke="#555" stroke-width="0.75" />
<line x1="360.6" y1="347.4" x2="360.6" y2="349.2" stroke="#555" stroke-width="0.75" />
<text x="360.6" y="355.5" font-size="6.3" font-weight="normal" fill="#222" text-anchor="middle" stroke="#222" stroke-width="0.18" >15</text>
<line x1="370.125" y1="347.4" x2="370.125" y2="349.2" stroke="#555" stroke-width="0.75" />
<text x="370.125" y="355.5" font-size="6.3" font-weight="normal" fill="#222" text-anchor="middle" stroke="#222" stroke-width="0.18" >18</text>
<line x1="379.65000000000003" y1="347.4" x2="379.65000000000003" y2="349.2" stroke="#555" stroke-width="0.75" />
<text x="379.65000000000003" y="355.5" font-size="6.3" font-weight="normal" fill="#222" text-anchor="middle" stroke="#222" stroke-width="0.18" >21</text>
<line x1="389.175" y1="347.4" x2="389.175" y2="349.2" stroke="#555" stroke-width="0.75" />
<text x="389.175" y="355.5" font-size="6.3" font-weight="normal" fill="#222" text-anchor="middle" stroke="#222" stroke-width="0.18" >24</text>
<line x1="398.70000000000005" y1="347.4" x2="398.70000000000005" y2="349.2" stroke="#555" stroke-width="0.75" />
<text x="398.70000000000005" y="355.5" font-size="6.3" font-weight="normal" fill="#222" text-anchor="middle" stroke="#222" stroke-width="0.18" >27</text>
<line x1="408.225" y1="347.4" x2="408.225" y2="349.2" stroke="#555" stroke-width="0.75" />
<text x="408.225" y="355.5" font-size="6.3" font-weight="normal" fill="#222" text-anchor="middle" stroke="#222" stroke-width="0.18" >30</text>
<line x1="417.75" y1="347.4" x2="417.75" y2="349.2" stroke="#555" stroke-width="0.75" />
<text x="417.75" y="355.5" font-size="6.3" font-weight="normal" fill="#222" text-anchor="middle" stroke="#222" stroke-width="0.18" >33</text>
<text x="371.5" y="366.3" font-size="7.2" font-weight="bold" fill="#111" text-anchor="start" stroke="#111" stroke-width="0.18" textLength="38.5" lengthAdjust="spacingAndGlyphs" >Time (days)</text>
<text x="361.5" y="283" font-size="7.3" font-weight="normal" fill="#1a1a1a" text-anchor="start" textLength="21.2" lengthAdjust="spacingAndGlyphs" stroke="#1a1a1a" stroke-width="0.35">WM88</text>
<text transform="translate(339.2,309) rotate(-90)" font-size="7" font-weight="bold" fill="#111" text-anchor="middle" textLength="75" lengthAdjust="spacingAndGlyphs">Volume of tumor in mm<tspan font-size="4" dy="-2.8">3</tspan></text>
<path d="M360.60,342.46 C362.19,341.85 366.95,340.11 370.12,338.80 C373.30,337.49 376.48,336.82 379.65,334.59 C382.83,332.36 386.00,328.86 389.18,325.44 C392.35,322.02 395.53,318.52 398.70,314.09 C401.88,309.67 405.05,304.49 408.23,298.90 C411.40,293.32 416.16,283.65 417.75,280.60" fill="none" stroke="#111" stroke-width="1.1"/>
<circle cx="360.6" cy="342.459" r="1.9" fill="#111" stroke="none" stroke-width="0.4"/>
<circle cx="370.125" cy="338.799" r="1.9" fill="#111" stroke="none" stroke-width="0.4"/>
<circle cx="379.65000000000003" cy="334.59" r="1.9" fill="#111" stroke="none" stroke-width="0.4"/>
<circle cx="389.175" cy="325.44" r="1.9" fill="#111" stroke="none" stroke-width="0.4"/>
<circle cx="398.70000000000005" cy="314.094" r="1.9" fill="#111" stroke="none" stroke-width="0.4"/>
<circle cx="408.225" cy="298.905" r="1.9" fill="#111" stroke="none" stroke-width="0.4"/>
<circle cx="417.75" cy="280.60499999999996" r="1.9" fill="#111" stroke="none" stroke-width="0.4"/>
<circle cx="360.6" cy="342.825" r="1.9" fill="#c42a2a" stroke="#4a1010" stroke-width="0.5"/>
<circle cx="370.125" cy="339.16499999999996" r="1.9" fill="#c42a2a" stroke="#4a1010" stroke-width="0.5"/>
<circle cx="379.65000000000003" cy="334.224" r="1.9" fill="#c42a2a" stroke="#4a1010" stroke-width="0.5"/>
<circle cx="389.175" cy="325.07399999999996" r="1.9" fill="#c42a2a" stroke="#4a1010" stroke-width="0.5"/>
<circle cx="398.70000000000005" cy="314.277" r="1.9" fill="#c42a2a" stroke="#4a1010" stroke-width="0.5"/>
<circle cx="408.225" cy="298.905" r="1.9" fill="#c42a2a" stroke="#4a1010" stroke-width="0.5"/>
<circle cx="417.75" cy="280.60499999999996" r="1.9" fill="#c42a2a" stroke="#4a1010" stroke-width="0.5"/>
<text x="392.3" y="294.2" font-size="6.6" font-weight="bold" fill="#111">NS<tspan font-size="5.2" dy="1.6">γ</tspan></text>
<text x="395.3" y="325.7" font-size="6.3" font-weight="bold" fill="#d43434" text-anchor="start" stroke="#d43434" stroke-width="0.18" >NS</text>
</svg>
</body></html>
